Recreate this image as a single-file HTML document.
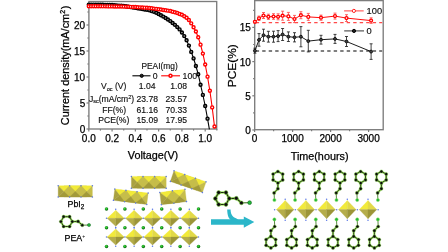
<!DOCTYPE html>
<html><head><meta charset="utf-8"><style>
html,body{margin:0;padding:0;background:#fff;width:448px;height:252px;overflow:hidden}
svg{display:block}
</style></head><body>
<svg width="448" height="252" viewBox="0 0 448 252">
<defs><radialGradient id="gsph" cx="0.42" cy="0.4" r="0.6"><stop offset="0" stop-color="#4ee04e"/><stop offset="0.55" stop-color="#16a01c"/><stop offset="1" stop-color="#0a5a0e"/></radialGradient></defs>
<rect width="448" height="252" fill="#fff"/>
<line x1="88.80" y1="129.0" x2="88.80" y2="131.4" stroke="#7c7c7c" stroke-width="1.2"/>
<line x1="100.44" y1="129.0" x2="100.44" y2="130.6" stroke="#7c7c7c" stroke-width="1.2"/>
<line x1="112.08" y1="129.0" x2="112.08" y2="131.4" stroke="#7c7c7c" stroke-width="1.2"/>
<line x1="123.72" y1="129.0" x2="123.72" y2="130.6" stroke="#7c7c7c" stroke-width="1.2"/>
<line x1="135.36" y1="129.0" x2="135.36" y2="131.4" stroke="#7c7c7c" stroke-width="1.2"/>
<line x1="147.00" y1="129.0" x2="147.00" y2="130.6" stroke="#7c7c7c" stroke-width="1.2"/>
<line x1="158.64" y1="129.0" x2="158.64" y2="131.4" stroke="#7c7c7c" stroke-width="1.2"/>
<line x1="170.28" y1="129.0" x2="170.28" y2="130.6" stroke="#7c7c7c" stroke-width="1.2"/>
<line x1="181.92" y1="129.0" x2="181.92" y2="131.4" stroke="#7c7c7c" stroke-width="1.2"/>
<line x1="193.56" y1="129.0" x2="193.56" y2="130.6" stroke="#7c7c7c" stroke-width="1.2"/>
<line x1="205.20" y1="129.0" x2="205.20" y2="131.4" stroke="#7c7c7c" stroke-width="1.2"/>
<line x1="216.84" y1="129.0" x2="216.84" y2="130.6" stroke="#7c7c7c" stroke-width="1.2"/>
<line x1="86.5" y1="129.00" x2="88.9" y2="129.00" stroke="#7c7c7c" stroke-width="1.2"/>
<line x1="87.30000000000001" y1="116.00" x2="88.9" y2="116.00" stroke="#7c7c7c" stroke-width="1.2"/>
<line x1="86.5" y1="103.00" x2="88.9" y2="103.00" stroke="#7c7c7c" stroke-width="1.2"/>
<line x1="87.30000000000001" y1="90.00" x2="88.9" y2="90.00" stroke="#7c7c7c" stroke-width="1.2"/>
<line x1="86.5" y1="77.00" x2="88.9" y2="77.00" stroke="#7c7c7c" stroke-width="1.2"/>
<line x1="87.30000000000001" y1="64.00" x2="88.9" y2="64.00" stroke="#7c7c7c" stroke-width="1.2"/>
<line x1="86.5" y1="51.00" x2="88.9" y2="51.00" stroke="#7c7c7c" stroke-width="1.2"/>
<line x1="87.30000000000001" y1="38.00" x2="88.9" y2="38.00" stroke="#7c7c7c" stroke-width="1.2"/>
<line x1="86.5" y1="25.00" x2="88.9" y2="25.00" stroke="#7c7c7c" stroke-width="1.2"/>
<line x1="87.30000000000001" y1="12.00" x2="88.9" y2="12.00" stroke="#7c7c7c" stroke-width="1.2"/>
<rect x="88.9" y="1.5" width="127.80" height="127.50" fill="none" stroke="#7c7c7c" stroke-width="1.35"/>
<text x="88.80" y="141.6" font-family="Liberation Sans, Arial, sans-serif" stroke="#000" stroke-width="0.25" font-size="10" text-anchor="middle" fill="#000">0.0</text>
<text x="112.08" y="141.6" font-family="Liberation Sans, Arial, sans-serif" stroke="#000" stroke-width="0.25" font-size="10" text-anchor="middle" fill="#000">0.2</text>
<text x="135.36" y="141.6" font-family="Liberation Sans, Arial, sans-serif" stroke="#000" stroke-width="0.25" font-size="10" text-anchor="middle" fill="#000">0.4</text>
<text x="158.64" y="141.6" font-family="Liberation Sans, Arial, sans-serif" stroke="#000" stroke-width="0.25" font-size="10" text-anchor="middle" fill="#000">0.6</text>
<text x="181.92" y="141.6" font-family="Liberation Sans, Arial, sans-serif" stroke="#000" stroke-width="0.25" font-size="10" text-anchor="middle" fill="#000">0.8</text>
<text x="205.20" y="141.6" font-family="Liberation Sans, Arial, sans-serif" stroke="#000" stroke-width="0.25" font-size="10" text-anchor="middle" fill="#000">1.0</text>
<text x="85.2" y="132.60" font-family="Liberation Sans, Arial, sans-serif" stroke="#000" stroke-width="0.25" font-size="10" text-anchor="end" fill="#000">0</text>
<text x="85.2" y="106.60" font-family="Liberation Sans, Arial, sans-serif" stroke="#000" stroke-width="0.25" font-size="10" text-anchor="end" fill="#000">5</text>
<text x="85.2" y="80.60" font-family="Liberation Sans, Arial, sans-serif" stroke="#000" stroke-width="0.25" font-size="10" text-anchor="end" fill="#000">10</text>
<text x="85.2" y="54.60" font-family="Liberation Sans, Arial, sans-serif" stroke="#000" stroke-width="0.25" font-size="10" text-anchor="end" fill="#000">15</text>
<text x="85.2" y="28.60" font-family="Liberation Sans, Arial, sans-serif" stroke="#000" stroke-width="0.25" font-size="10" text-anchor="end" fill="#000">20</text>
<text x="153" y="158.7" font-family="Liberation Sans, Arial, sans-serif" stroke="#000" stroke-width="0.25" font-size="10.8" text-anchor="middle" fill="#000">Voltage(V)</text>
<text transform="translate(69.4,124.6) rotate(-90)" x="-0.6" y="0" font-family="Liberation Sans, Arial, sans-serif" stroke="#000" stroke-width="0.25" font-size="10.9" fill="#000">Current density(mA/cm<tspan dy="-4.2" font-size="7">2</tspan><tspan dy="4.2" dx="0.6">)</tspan></text>
<path d="M88.80,4.60 L110.00,4.90 L125.00,6.10 L134.30,7.70 L141.00,8.80 L148.60,10.10 L155.00,12.20 L160.00,14.70 L165.00,17.60 L170.00,20.90 L175.00,24.90 L179.60,29.40 L181.90,32.40 L184.20,36.00 L186.60,40.30 L188.90,45.60 L191.20,51.80 L193.60,58.50 L195.90,66.00 L198.20,74.20 L200.50,84.50 L202.90,95.00 L205.20,106.00 L207.50,118.50 L209.40,129.30" fill="none" stroke="#000" stroke-width="1.1"/>
<circle cx="88.80" cy="4.60" r="1.5" fill="#999" stroke="#000" stroke-width="1.4"/>
<circle cx="91.13" cy="4.63" r="1.5" fill="#999" stroke="#000" stroke-width="1.4"/>
<circle cx="93.46" cy="4.67" r="1.5" fill="#999" stroke="#000" stroke-width="1.4"/>
<circle cx="95.78" cy="4.70" r="1.5" fill="#999" stroke="#000" stroke-width="1.4"/>
<circle cx="98.11" cy="4.73" r="1.5" fill="#999" stroke="#000" stroke-width="1.4"/>
<circle cx="100.44" cy="4.76" r="1.5" fill="#999" stroke="#000" stroke-width="1.4"/>
<circle cx="102.77" cy="4.80" r="1.5" fill="#999" stroke="#000" stroke-width="1.4"/>
<circle cx="105.10" cy="4.83" r="1.5" fill="#999" stroke="#000" stroke-width="1.4"/>
<circle cx="107.42" cy="4.86" r="1.5" fill="#999" stroke="#000" stroke-width="1.4"/>
<circle cx="109.75" cy="4.90" r="1.5" fill="#999" stroke="#000" stroke-width="1.4"/>
<circle cx="112.08" cy="5.07" r="1.5" fill="#999" stroke="#000" stroke-width="1.4"/>
<circle cx="114.41" cy="5.25" r="1.5" fill="#999" stroke="#000" stroke-width="1.4"/>
<circle cx="116.74" cy="5.44" r="1.5" fill="#999" stroke="#000" stroke-width="1.4"/>
<circle cx="119.06" cy="5.63" r="1.5" fill="#999" stroke="#000" stroke-width="1.4"/>
<circle cx="121.39" cy="5.81" r="1.5" fill="#999" stroke="#000" stroke-width="1.4"/>
<circle cx="123.72" cy="6.00" r="1.5" fill="#999" stroke="#000" stroke-width="1.4"/>
<circle cx="126.05" cy="6.28" r="1.5" fill="#999" stroke="#000" stroke-width="1.4"/>
<circle cx="128.38" cy="6.68" r="1.5" fill="#999" stroke="#000" stroke-width="1.4"/>
<circle cx="130.70" cy="7.08" r="1.5" fill="#999" stroke="#000" stroke-width="1.4"/>
<circle cx="133.03" cy="7.48" r="1.5" fill="#999" stroke="#000" stroke-width="1.4"/>
<circle cx="135.36" cy="7.87" r="1.5" fill="#999" stroke="#000" stroke-width="1.4"/>
<circle cx="137.69" cy="8.26" r="1.5" fill="#999" stroke="#000" stroke-width="1.4"/>
<circle cx="140.02" cy="8.64" r="1.5" fill="#999" stroke="#000" stroke-width="1.4"/>
<circle cx="142.34" cy="9.03" r="1.5" fill="#999" stroke="#000" stroke-width="1.4"/>
<circle cx="144.67" cy="9.43" r="1.5" fill="#999" stroke="#000" stroke-width="1.4"/>
<circle cx="147.00" cy="9.83" r="1.5" fill="#999" stroke="#000" stroke-width="1.4"/>
<circle cx="149.33" cy="10.34" r="1.5" fill="#999" stroke="#000" stroke-width="1.4"/>
<circle cx="151.66" cy="11.10" r="1.5" fill="#999" stroke="#000" stroke-width="1.4"/>
<circle cx="153.98" cy="11.87" r="1.5" fill="#999" stroke="#000" stroke-width="1.4"/>
<circle cx="156.31" cy="12.86" r="1.5" fill="#999" stroke="#000" stroke-width="1.4"/>
<circle cx="158.64" cy="14.02" r="1.5" fill="#999" stroke="#000" stroke-width="1.4"/>
<circle cx="160.97" cy="15.26" r="1.5" fill="#999" stroke="#000" stroke-width="1.4"/>
<circle cx="163.30" cy="16.61" r="1.5" fill="#999" stroke="#000" stroke-width="1.4"/>
<circle cx="165.62" cy="18.01" r="1.5" fill="#999" stroke="#000" stroke-width="1.4"/>
<circle cx="167.95" cy="19.55" r="1.5" fill="#999" stroke="#000" stroke-width="1.4"/>
<circle cx="170.28" cy="21.12" r="1.5" fill="#999" stroke="#000" stroke-width="1.4"/>
<circle cx="172.61" cy="22.99" r="1.5" fill="#999" stroke="#000" stroke-width="1.4"/>
<circle cx="174.94" cy="24.85" r="1.5" fill="#999" stroke="#000" stroke-width="1.4"/>
<circle cx="177.26" cy="27.11" r="1.5" fill="#999" stroke="#000" stroke-width="1.4"/>
<circle cx="179.59" cy="29.39" r="1.5" fill="#999" stroke="#000" stroke-width="1.4"/>
<circle cx="181.92" cy="32.43" r="1.5" fill="#999" stroke="#000" stroke-width="1.4"/>
<circle cx="184.25" cy="36.09" r="1.5" fill="#999" stroke="#000" stroke-width="1.4"/>
<circle cx="186.58" cy="40.26" r="1.5" fill="#999" stroke="#000" stroke-width="1.4"/>
<circle cx="188.90" cy="45.61" r="1.5" fill="#999" stroke="#000" stroke-width="1.4"/>
<circle cx="191.23" cy="51.89" r="1.5" fill="#999" stroke="#000" stroke-width="1.4"/>
<circle cx="193.56" cy="58.39" r="1.5" fill="#999" stroke="#000" stroke-width="1.4"/>
<circle cx="195.89" cy="65.96" r="1.5" fill="#999" stroke="#000" stroke-width="1.4"/>
<circle cx="198.22" cy="74.27" r="1.5" fill="#999" stroke="#000" stroke-width="1.4"/>
<circle cx="200.54" cy="84.69" r="1.5" fill="#999" stroke="#000" stroke-width="1.4"/>
<circle cx="202.87" cy="94.88" r="1.5" fill="#999" stroke="#000" stroke-width="1.4"/>
<circle cx="205.20" cy="106.00" r="1.5" fill="#999" stroke="#000" stroke-width="1.4"/>
<circle cx="207.53" cy="118.66" r="1.5" fill="#999" stroke="#000" stroke-width="1.4"/>
<path d="M88.80,6.20 L120.00,6.50 L135.00,7.00 L148.60,7.90 L160.00,9.40 L170.00,11.00 L176.00,12.60 L181.90,14.80 L184.20,16.20 L186.60,17.80 L188.90,20.00 L191.20,23.30 L193.60,27.30 L195.90,31.50 L198.20,37.20 L200.50,44.50 L202.90,53.70 L205.20,64.50 L207.50,76.50 L209.90,91.00 L212.20,107.50 L214.50,126.50" fill="none" stroke="#f00" stroke-width="1.1"/>
<circle cx="88.80" cy="6.20" r="1.5" fill="#fff" stroke="#f00" stroke-width="1.4"/>
<circle cx="91.13" cy="6.22" r="1.5" fill="#fff" stroke="#f00" stroke-width="1.4"/>
<circle cx="93.46" cy="6.24" r="1.5" fill="#fff" stroke="#f00" stroke-width="1.4"/>
<circle cx="95.78" cy="6.27" r="1.5" fill="#fff" stroke="#f00" stroke-width="1.4"/>
<circle cx="98.11" cy="6.29" r="1.5" fill="#fff" stroke="#f00" stroke-width="1.4"/>
<circle cx="100.44" cy="6.31" r="1.5" fill="#fff" stroke="#f00" stroke-width="1.4"/>
<circle cx="102.77" cy="6.33" r="1.5" fill="#fff" stroke="#f00" stroke-width="1.4"/>
<circle cx="105.10" cy="6.36" r="1.5" fill="#fff" stroke="#f00" stroke-width="1.4"/>
<circle cx="107.42" cy="6.38" r="1.5" fill="#fff" stroke="#f00" stroke-width="1.4"/>
<circle cx="109.75" cy="6.40" r="1.5" fill="#fff" stroke="#f00" stroke-width="1.4"/>
<circle cx="112.08" cy="6.42" r="1.5" fill="#fff" stroke="#f00" stroke-width="1.4"/>
<circle cx="114.41" cy="6.45" r="1.5" fill="#fff" stroke="#f00" stroke-width="1.4"/>
<circle cx="116.74" cy="6.47" r="1.5" fill="#fff" stroke="#f00" stroke-width="1.4"/>
<circle cx="119.06" cy="6.49" r="1.5" fill="#fff" stroke="#f00" stroke-width="1.4"/>
<circle cx="121.39" cy="6.55" r="1.5" fill="#fff" stroke="#f00" stroke-width="1.4"/>
<circle cx="123.72" cy="6.62" r="1.5" fill="#fff" stroke="#f00" stroke-width="1.4"/>
<circle cx="126.05" cy="6.70" r="1.5" fill="#fff" stroke="#f00" stroke-width="1.4"/>
<circle cx="128.38" cy="6.78" r="1.5" fill="#fff" stroke="#f00" stroke-width="1.4"/>
<circle cx="130.70" cy="6.86" r="1.5" fill="#fff" stroke="#f00" stroke-width="1.4"/>
<circle cx="133.03" cy="6.93" r="1.5" fill="#fff" stroke="#f00" stroke-width="1.4"/>
<circle cx="135.36" cy="7.02" r="1.5" fill="#fff" stroke="#f00" stroke-width="1.4"/>
<circle cx="137.69" cy="7.18" r="1.5" fill="#fff" stroke="#f00" stroke-width="1.4"/>
<circle cx="140.02" cy="7.33" r="1.5" fill="#fff" stroke="#f00" stroke-width="1.4"/>
<circle cx="142.34" cy="7.49" r="1.5" fill="#fff" stroke="#f00" stroke-width="1.4"/>
<circle cx="144.67" cy="7.64" r="1.5" fill="#fff" stroke="#f00" stroke-width="1.4"/>
<circle cx="147.00" cy="7.79" r="1.5" fill="#fff" stroke="#f00" stroke-width="1.4"/>
<circle cx="149.33" cy="8.00" r="1.5" fill="#fff" stroke="#f00" stroke-width="1.4"/>
<circle cx="151.66" cy="8.30" r="1.5" fill="#fff" stroke="#f00" stroke-width="1.4"/>
<circle cx="153.98" cy="8.61" r="1.5" fill="#fff" stroke="#f00" stroke-width="1.4"/>
<circle cx="156.31" cy="8.91" r="1.5" fill="#fff" stroke="#f00" stroke-width="1.4"/>
<circle cx="158.64" cy="9.22" r="1.5" fill="#fff" stroke="#f00" stroke-width="1.4"/>
<circle cx="160.97" cy="9.55" r="1.5" fill="#fff" stroke="#f00" stroke-width="1.4"/>
<circle cx="163.30" cy="9.93" r="1.5" fill="#fff" stroke="#f00" stroke-width="1.4"/>
<circle cx="165.62" cy="10.30" r="1.5" fill="#fff" stroke="#f00" stroke-width="1.4"/>
<circle cx="167.95" cy="10.67" r="1.5" fill="#fff" stroke="#f00" stroke-width="1.4"/>
<circle cx="170.28" cy="11.07" r="1.5" fill="#fff" stroke="#f00" stroke-width="1.4"/>
<circle cx="172.61" cy="11.70" r="1.5" fill="#fff" stroke="#f00" stroke-width="1.4"/>
<circle cx="174.94" cy="12.32" r="1.5" fill="#fff" stroke="#f00" stroke-width="1.4"/>
<circle cx="177.26" cy="13.07" r="1.5" fill="#fff" stroke="#f00" stroke-width="1.4"/>
<circle cx="179.59" cy="13.94" r="1.5" fill="#fff" stroke="#f00" stroke-width="1.4"/>
<circle cx="181.92" cy="14.81" r="1.5" fill="#fff" stroke="#f00" stroke-width="1.4"/>
<circle cx="184.25" cy="16.23" r="1.5" fill="#fff" stroke="#f00" stroke-width="1.4"/>
<circle cx="186.58" cy="17.78" r="1.5" fill="#fff" stroke="#f00" stroke-width="1.4"/>
<circle cx="188.90" cy="20.01" r="1.5" fill="#fff" stroke="#f00" stroke-width="1.4"/>
<circle cx="191.23" cy="23.35" r="1.5" fill="#fff" stroke="#f00" stroke-width="1.4"/>
<circle cx="193.56" cy="27.23" r="1.5" fill="#fff" stroke="#f00" stroke-width="1.4"/>
<circle cx="195.89" cy="31.48" r="1.5" fill="#fff" stroke="#f00" stroke-width="1.4"/>
<circle cx="198.22" cy="37.25" r="1.5" fill="#fff" stroke="#f00" stroke-width="1.4"/>
<circle cx="200.54" cy="44.67" r="1.5" fill="#fff" stroke="#f00" stroke-width="1.4"/>
<circle cx="202.87" cy="53.59" r="1.5" fill="#fff" stroke="#f00" stroke-width="1.4"/>
<circle cx="205.20" cy="64.50" r="1.5" fill="#fff" stroke="#f00" stroke-width="1.4"/>
<circle cx="207.53" cy="76.67" r="1.5" fill="#fff" stroke="#f00" stroke-width="1.4"/>
<circle cx="209.86" cy="90.73" r="1.5" fill="#fff" stroke="#f00" stroke-width="1.4"/>
<circle cx="212.18" cy="107.39" r="1.5" fill="#fff" stroke="#f00" stroke-width="1.4"/>
<circle cx="214.51" cy="126.50" r="1.5" fill="#fff" stroke="#f00" stroke-width="1.4"/>
<text x="159.6" y="68.6" font-family="Liberation Sans, Arial, sans-serif" stroke="#111" stroke-width="0.15" font-size="8.4" text-anchor="middle" fill="#111">PEAI(mg)</text>
<line x1="132.4" y1="75.8" x2="150.5" y2="75.8" stroke="#000" stroke-width="1.1"/>
<circle cx="141.7" cy="75.8" r="1.6" fill="#222" stroke="#000" stroke-width="1"/>
<text x="152.8" y="79" font-family="Liberation Sans, Arial, sans-serif" stroke="#111" stroke-width="0.15" font-size="8.7" fill="#111">0</text>
<line x1="161.2" y1="75.8" x2="180" y2="75.8" stroke="#f00" stroke-width="1.1"/>
<circle cx="170.5" cy="75.8" r="1.5" fill="#fff" stroke="#f00" stroke-width="1.45"/>
<text x="182.6" y="79" font-family="Liberation Sans, Arial, sans-serif" stroke="#111" stroke-width="0.15" font-size="8.7" fill="#111">100</text>
<text x="101.0" y="89.3" font-family="Liberation Sans, Arial, sans-serif" stroke="#111" stroke-width="0.15" font-size="8.6" fill="#111">V<tspan dy="1.6" font-size="5.5">oc</tspan><tspan dy="-1.6"> (V)</tspan></text>
<text x="88.9" y="101.6" font-family="Liberation Sans, Arial, sans-serif" stroke="#111" stroke-width="0.15" font-size="8.6" fill="#111">J<tspan dy="1.6" font-size="5.5">sc</tspan><tspan dy="-1.6">(mA/cm</tspan><tspan dy="-3" font-size="5.5">2</tspan><tspan dy="3">)</tspan></text>
<text x="114.2" y="113.2" font-family="Liberation Sans, Arial, sans-serif" stroke="#111" stroke-width="0.15" font-size="8.6" text-anchor="middle" fill="#111">FF(%)</text>
<text x="113.8" y="123.1" font-family="Liberation Sans, Arial, sans-serif" stroke="#111" stroke-width="0.15" font-size="8.6" text-anchor="middle" fill="#111">PCE(%)</text>
<text x="147.2" y="89.3" font-family="Liberation Sans, Arial, sans-serif" stroke="#111" stroke-width="0.15" font-size="8.6" text-anchor="middle" fill="#111">1.04</text>
<text x="187.0" y="89.3" font-family="Liberation Sans, Arial, sans-serif" stroke="#111" stroke-width="0.15" font-size="8.6" text-anchor="end" fill="#111">1.08</text>
<text x="147.2" y="101.6" font-family="Liberation Sans, Arial, sans-serif" stroke="#111" stroke-width="0.15" font-size="8.6" text-anchor="middle" fill="#111">23.78</text>
<text x="187.0" y="101.6" font-family="Liberation Sans, Arial, sans-serif" stroke="#111" stroke-width="0.15" font-size="8.6" text-anchor="end" fill="#111">23.57</text>
<text x="147.2" y="113.2" font-family="Liberation Sans, Arial, sans-serif" stroke="#111" stroke-width="0.15" font-size="8.6" text-anchor="middle" fill="#111">61.16</text>
<text x="187.0" y="113.2" font-family="Liberation Sans, Arial, sans-serif" stroke="#111" stroke-width="0.15" font-size="8.6" text-anchor="end" fill="#111">70.33</text>
<text x="147.2" y="123.1" font-family="Liberation Sans, Arial, sans-serif" stroke="#111" stroke-width="0.15" font-size="8.6" text-anchor="middle" fill="#111">15.09</text>
<text x="187.0" y="123.1" font-family="Liberation Sans, Arial, sans-serif" stroke="#111" stroke-width="0.15" font-size="8.6" text-anchor="end" fill="#111">17.95</text>
<line x1="254.60" y1="129.7" x2="254.60" y2="132.1" stroke="#7c7c7c" stroke-width="1.2"/>
<line x1="273.60" y1="129.7" x2="273.60" y2="131.29999999999998" stroke="#7c7c7c" stroke-width="1.2"/>
<line x1="292.60" y1="129.7" x2="292.60" y2="132.1" stroke="#7c7c7c" stroke-width="1.2"/>
<line x1="311.60" y1="129.7" x2="311.60" y2="131.29999999999998" stroke="#7c7c7c" stroke-width="1.2"/>
<line x1="330.60" y1="129.7" x2="330.60" y2="132.1" stroke="#7c7c7c" stroke-width="1.2"/>
<line x1="349.60" y1="129.7" x2="349.60" y2="131.29999999999998" stroke="#7c7c7c" stroke-width="1.2"/>
<line x1="368.60" y1="129.7" x2="368.60" y2="132.1" stroke="#7c7c7c" stroke-width="1.2"/>
<line x1="252.29999999999998" y1="130.00" x2="254.7" y2="130.00" stroke="#7c7c7c" stroke-width="1.2"/>
<line x1="253.1" y1="112.90" x2="254.7" y2="112.90" stroke="#7c7c7c" stroke-width="1.2"/>
<line x1="252.29999999999998" y1="95.80" x2="254.7" y2="95.80" stroke="#7c7c7c" stroke-width="1.2"/>
<line x1="253.1" y1="78.70" x2="254.7" y2="78.70" stroke="#7c7c7c" stroke-width="1.2"/>
<line x1="252.29999999999998" y1="61.60" x2="254.7" y2="61.60" stroke="#7c7c7c" stroke-width="1.2"/>
<line x1="253.1" y1="44.50" x2="254.7" y2="44.50" stroke="#7c7c7c" stroke-width="1.2"/>
<line x1="252.29999999999998" y1="27.40" x2="254.7" y2="27.40" stroke="#7c7c7c" stroke-width="1.2"/>
<line x1="253.1" y1="10.30" x2="254.7" y2="10.30" stroke="#7c7c7c" stroke-width="1.2"/>
<rect x="254.7" y="0.6" width="128.50" height="129.10" fill="none" stroke="#7c7c7c" stroke-width="1.35"/>
<text x="254.60" y="142.3" font-family="Liberation Sans, Arial, sans-serif" stroke="#000" stroke-width="0.25" font-size="10" text-anchor="middle" fill="#000">0</text>
<text x="292.60" y="142.3" font-family="Liberation Sans, Arial, sans-serif" stroke="#000" stroke-width="0.25" font-size="10" text-anchor="middle" fill="#000">1000</text>
<text x="330.60" y="142.3" font-family="Liberation Sans, Arial, sans-serif" stroke="#000" stroke-width="0.25" font-size="10" text-anchor="middle" fill="#000">2000</text>
<text x="368.60" y="142.3" font-family="Liberation Sans, Arial, sans-serif" stroke="#000" stroke-width="0.25" font-size="10" text-anchor="middle" fill="#000">3000</text>
<text x="250.8" y="133.90" font-family="Liberation Sans, Arial, sans-serif" stroke="#000" stroke-width="0.25" font-size="10" text-anchor="end" fill="#000">0</text>
<text x="250.8" y="99.70" font-family="Liberation Sans, Arial, sans-serif" stroke="#000" stroke-width="0.25" font-size="10" text-anchor="end" fill="#000">5</text>
<text x="250.8" y="65.50" font-family="Liberation Sans, Arial, sans-serif" stroke="#000" stroke-width="0.25" font-size="10" text-anchor="end" fill="#000">10</text>
<text x="250.8" y="31.30" font-family="Liberation Sans, Arial, sans-serif" stroke="#000" stroke-width="0.25" font-size="10" text-anchor="end" fill="#000">15</text>
<text x="319.6" y="159.6" font-family="Liberation Sans, Arial, sans-serif" stroke="#000" stroke-width="0.25" font-size="10.8" text-anchor="middle" fill="#000">Time(hours)</text>
<text transform="translate(235.9,65.7) rotate(-90) scale(1.045,1)" x="0" y="0" font-family="Liberation Sans, Arial, sans-serif" stroke="#000" stroke-width="0.25" font-size="11.4" text-anchor="middle" fill="#000">PCE(%)</text>
<line x1="255.7" y1="22.7" x2="382.2" y2="22.7" stroke="#ff4a4a" stroke-width="1.3" stroke-dasharray="3.4 3.1"/>
<line x1="255.7" y1="51.0" x2="382.2" y2="51.0" stroke="#555" stroke-width="1.3" stroke-dasharray="3.4 3.1"/>
<path d="M254.90,50.70 L259.00,39.90 L263.50,35.20 L268.40,36.70 L273.50,36.70 L278.10,36.10 L282.60,34.50 L288.40,36.70 L294.50,37.30 L300.90,36.70 L308.30,41.10 L321.00,39.70 L335.00,38.90 L346.50,41.50 L371.10,51.60" fill="none" stroke="#111" stroke-width="0.95"/>
<line x1="254.90" y1="48.20" x2="254.90" y2="53.20" stroke="#222" stroke-width="0.85"/>
<line x1="253.40" y1="48.20" x2="256.40" y2="48.20" stroke="#222" stroke-width="0.85"/>
<line x1="253.40" y1="53.20" x2="256.40" y2="53.20" stroke="#222" stroke-width="0.85"/>
<circle cx="254.90" cy="50.70" r="1.45" fill="#444" stroke="#111" stroke-width="1.0"/>
<line x1="259.00" y1="33.60" x2="259.00" y2="46.20" stroke="#222" stroke-width="0.85"/>
<line x1="257.50" y1="33.60" x2="260.50" y2="33.60" stroke="#222" stroke-width="0.85"/>
<line x1="257.50" y1="46.20" x2="260.50" y2="46.20" stroke="#222" stroke-width="0.85"/>
<circle cx="259.00" cy="39.90" r="1.45" fill="#444" stroke="#111" stroke-width="1.0"/>
<line x1="263.50" y1="29.20" x2="263.50" y2="41.20" stroke="#222" stroke-width="0.85"/>
<line x1="262.00" y1="29.20" x2="265.00" y2="29.20" stroke="#222" stroke-width="0.85"/>
<line x1="262.00" y1="41.20" x2="265.00" y2="41.20" stroke="#222" stroke-width="0.85"/>
<circle cx="263.50" cy="35.20" r="1.45" fill="#444" stroke="#111" stroke-width="1.0"/>
<line x1="268.40" y1="31.30" x2="268.40" y2="42.10" stroke="#222" stroke-width="0.85"/>
<line x1="266.90" y1="31.30" x2="269.90" y2="31.30" stroke="#222" stroke-width="0.85"/>
<line x1="266.90" y1="42.10" x2="269.90" y2="42.10" stroke="#222" stroke-width="0.85"/>
<circle cx="268.40" cy="36.70" r="1.45" fill="#444" stroke="#111" stroke-width="1.0"/>
<line x1="273.50" y1="31.20" x2="273.50" y2="42.20" stroke="#222" stroke-width="0.85"/>
<line x1="272.00" y1="31.20" x2="275.00" y2="31.20" stroke="#222" stroke-width="0.85"/>
<line x1="272.00" y1="42.20" x2="275.00" y2="42.20" stroke="#222" stroke-width="0.85"/>
<circle cx="273.50" cy="36.70" r="1.45" fill="#444" stroke="#111" stroke-width="1.0"/>
<line x1="278.10" y1="30.60" x2="278.10" y2="41.60" stroke="#222" stroke-width="0.85"/>
<line x1="276.60" y1="30.60" x2="279.60" y2="30.60" stroke="#222" stroke-width="0.85"/>
<line x1="276.60" y1="41.60" x2="279.60" y2="41.60" stroke="#222" stroke-width="0.85"/>
<circle cx="278.10" cy="36.10" r="1.45" fill="#444" stroke="#111" stroke-width="1.0"/>
<line x1="282.60" y1="28.50" x2="282.60" y2="40.50" stroke="#222" stroke-width="0.85"/>
<line x1="281.10" y1="28.50" x2="284.10" y2="28.50" stroke="#222" stroke-width="0.85"/>
<line x1="281.10" y1="40.50" x2="284.10" y2="40.50" stroke="#222" stroke-width="0.85"/>
<circle cx="282.60" cy="34.50" r="1.45" fill="#444" stroke="#111" stroke-width="1.0"/>
<line x1="288.40" y1="31.90" x2="288.40" y2="41.50" stroke="#222" stroke-width="0.85"/>
<line x1="286.90" y1="31.90" x2="289.90" y2="31.90" stroke="#222" stroke-width="0.85"/>
<line x1="286.90" y1="41.50" x2="289.90" y2="41.50" stroke="#222" stroke-width="0.85"/>
<circle cx="288.40" cy="36.70" r="1.45" fill="#444" stroke="#111" stroke-width="1.0"/>
<line x1="294.50" y1="32.70" x2="294.50" y2="41.90" stroke="#222" stroke-width="0.85"/>
<line x1="293.00" y1="32.70" x2="296.00" y2="32.70" stroke="#222" stroke-width="0.85"/>
<line x1="293.00" y1="41.90" x2="296.00" y2="41.90" stroke="#222" stroke-width="0.85"/>
<circle cx="294.50" cy="37.30" r="1.45" fill="#444" stroke="#111" stroke-width="1.0"/>
<line x1="300.90" y1="26.60" x2="300.90" y2="46.80" stroke="#222" stroke-width="0.85"/>
<line x1="299.40" y1="26.60" x2="302.40" y2="26.60" stroke="#222" stroke-width="0.85"/>
<line x1="299.40" y1="46.80" x2="302.40" y2="46.80" stroke="#222" stroke-width="0.85"/>
<circle cx="300.90" cy="36.70" r="1.45" fill="#444" stroke="#111" stroke-width="1.0"/>
<line x1="308.30" y1="30.30" x2="308.30" y2="51.90" stroke="#222" stroke-width="0.85"/>
<line x1="306.80" y1="30.30" x2="309.80" y2="30.30" stroke="#222" stroke-width="0.85"/>
<line x1="306.80" y1="51.90" x2="309.80" y2="51.90" stroke="#222" stroke-width="0.85"/>
<circle cx="308.30" cy="41.10" r="1.45" fill="#444" stroke="#111" stroke-width="1.0"/>
<line x1="321.00" y1="35.30" x2="321.00" y2="44.10" stroke="#222" stroke-width="0.85"/>
<line x1="319.50" y1="35.30" x2="322.50" y2="35.30" stroke="#222" stroke-width="0.85"/>
<line x1="319.50" y1="44.10" x2="322.50" y2="44.10" stroke="#222" stroke-width="0.85"/>
<circle cx="321.00" cy="39.70" r="1.45" fill="#444" stroke="#111" stroke-width="1.0"/>
<line x1="335.00" y1="34.40" x2="335.00" y2="43.40" stroke="#222" stroke-width="0.85"/>
<line x1="333.50" y1="34.40" x2="336.50" y2="34.40" stroke="#222" stroke-width="0.85"/>
<line x1="333.50" y1="43.40" x2="336.50" y2="43.40" stroke="#222" stroke-width="0.85"/>
<circle cx="335.00" cy="38.90" r="1.45" fill="#444" stroke="#111" stroke-width="1.0"/>
<line x1="346.50" y1="36.50" x2="346.50" y2="46.50" stroke="#222" stroke-width="0.85"/>
<line x1="345.00" y1="36.50" x2="348.00" y2="36.50" stroke="#222" stroke-width="0.85"/>
<line x1="345.00" y1="46.50" x2="348.00" y2="46.50" stroke="#222" stroke-width="0.85"/>
<circle cx="346.50" cy="41.50" r="1.45" fill="#444" stroke="#111" stroke-width="1.0"/>
<line x1="371.10" y1="43.80" x2="371.10" y2="59.40" stroke="#222" stroke-width="0.85"/>
<line x1="369.60" y1="43.80" x2="372.60" y2="43.80" stroke="#222" stroke-width="0.85"/>
<line x1="369.60" y1="59.40" x2="372.60" y2="59.40" stroke="#222" stroke-width="0.85"/>
<circle cx="371.10" cy="51.60" r="1.45" fill="#444" stroke="#111" stroke-width="1.0"/>
<path d="M254.90,21.80 L259.00,18.30 L263.50,15.50 L268.40,16.80 L273.50,16.50 L278.10,16.80 L282.60,15.70 L288.40,16.40 L294.50,19.00 L300.90,15.20 L308.30,16.90 L321.00,17.70 L335.00,16.10 L346.50,18.10 L371.10,20.60" fill="none" stroke="#f00" stroke-width="0.95"/>
<line x1="254.90" y1="20.60" x2="254.90" y2="23.00" stroke="#ff4d4d" stroke-width="0.85"/>
<line x1="253.40" y1="20.60" x2="256.40" y2="20.60" stroke="#ff4d4d" stroke-width="0.85"/>
<line x1="253.40" y1="23.00" x2="256.40" y2="23.00" stroke="#ff4d4d" stroke-width="0.85"/>
<circle cx="254.90" cy="21.80" r="1.45" fill="#fff" stroke="#f00" stroke-width="1.3"/>
<line x1="259.00" y1="16.10" x2="259.00" y2="20.50" stroke="#ff4d4d" stroke-width="0.85"/>
<line x1="257.50" y1="16.10" x2="260.50" y2="16.10" stroke="#ff4d4d" stroke-width="0.85"/>
<line x1="257.50" y1="20.50" x2="260.50" y2="20.50" stroke="#ff4d4d" stroke-width="0.85"/>
<circle cx="259.00" cy="18.30" r="1.45" fill="#fff" stroke="#f00" stroke-width="1.3"/>
<line x1="263.50" y1="12.50" x2="263.50" y2="18.50" stroke="#ff4d4d" stroke-width="0.85"/>
<line x1="262.00" y1="12.50" x2="265.00" y2="12.50" stroke="#ff4d4d" stroke-width="0.85"/>
<line x1="262.00" y1="18.50" x2="265.00" y2="18.50" stroke="#ff4d4d" stroke-width="0.85"/>
<circle cx="263.50" cy="15.50" r="1.45" fill="#fff" stroke="#f00" stroke-width="1.3"/>
<line x1="268.40" y1="14.20" x2="268.40" y2="19.40" stroke="#ff4d4d" stroke-width="0.85"/>
<line x1="266.90" y1="14.20" x2="269.90" y2="14.20" stroke="#ff4d4d" stroke-width="0.85"/>
<line x1="266.90" y1="19.40" x2="269.90" y2="19.40" stroke="#ff4d4d" stroke-width="0.85"/>
<circle cx="268.40" cy="16.80" r="1.45" fill="#fff" stroke="#f00" stroke-width="1.3"/>
<line x1="273.50" y1="13.70" x2="273.50" y2="19.30" stroke="#ff4d4d" stroke-width="0.85"/>
<line x1="272.00" y1="13.70" x2="275.00" y2="13.70" stroke="#ff4d4d" stroke-width="0.85"/>
<line x1="272.00" y1="19.30" x2="275.00" y2="19.30" stroke="#ff4d4d" stroke-width="0.85"/>
<circle cx="273.50" cy="16.50" r="1.45" fill="#fff" stroke="#f00" stroke-width="1.3"/>
<line x1="278.10" y1="13.80" x2="278.10" y2="19.80" stroke="#ff4d4d" stroke-width="0.85"/>
<line x1="276.60" y1="13.80" x2="279.60" y2="13.80" stroke="#ff4d4d" stroke-width="0.85"/>
<line x1="276.60" y1="19.80" x2="279.60" y2="19.80" stroke="#ff4d4d" stroke-width="0.85"/>
<circle cx="278.10" cy="16.80" r="1.45" fill="#fff" stroke="#f00" stroke-width="1.3"/>
<line x1="282.60" y1="11.20" x2="282.60" y2="20.20" stroke="#ff4d4d" stroke-width="0.85"/>
<line x1="281.10" y1="11.20" x2="284.10" y2="11.20" stroke="#ff4d4d" stroke-width="0.85"/>
<line x1="281.10" y1="20.20" x2="284.10" y2="20.20" stroke="#ff4d4d" stroke-width="0.85"/>
<circle cx="282.60" cy="15.70" r="1.45" fill="#fff" stroke="#f00" stroke-width="1.3"/>
<line x1="288.40" y1="12.40" x2="288.40" y2="20.40" stroke="#ff4d4d" stroke-width="0.85"/>
<line x1="286.90" y1="12.40" x2="289.90" y2="12.40" stroke="#ff4d4d" stroke-width="0.85"/>
<line x1="286.90" y1="20.40" x2="289.90" y2="20.40" stroke="#ff4d4d" stroke-width="0.85"/>
<circle cx="288.40" cy="16.40" r="1.45" fill="#fff" stroke="#f00" stroke-width="1.3"/>
<line x1="294.50" y1="15.40" x2="294.50" y2="22.60" stroke="#ff4d4d" stroke-width="0.85"/>
<line x1="293.00" y1="15.40" x2="296.00" y2="15.40" stroke="#ff4d4d" stroke-width="0.85"/>
<line x1="293.00" y1="22.60" x2="296.00" y2="22.60" stroke="#ff4d4d" stroke-width="0.85"/>
<circle cx="294.50" cy="19.00" r="1.45" fill="#fff" stroke="#f00" stroke-width="1.3"/>
<line x1="300.90" y1="11.70" x2="300.90" y2="18.70" stroke="#ff4d4d" stroke-width="0.85"/>
<line x1="299.40" y1="11.70" x2="302.40" y2="11.70" stroke="#ff4d4d" stroke-width="0.85"/>
<line x1="299.40" y1="18.70" x2="302.40" y2="18.70" stroke="#ff4d4d" stroke-width="0.85"/>
<circle cx="300.90" cy="15.20" r="1.45" fill="#fff" stroke="#f00" stroke-width="1.3"/>
<line x1="308.30" y1="13.40" x2="308.30" y2="20.40" stroke="#ff4d4d" stroke-width="0.85"/>
<line x1="306.80" y1="13.40" x2="309.80" y2="13.40" stroke="#ff4d4d" stroke-width="0.85"/>
<line x1="306.80" y1="20.40" x2="309.80" y2="20.40" stroke="#ff4d4d" stroke-width="0.85"/>
<circle cx="308.30" cy="16.90" r="1.45" fill="#fff" stroke="#f00" stroke-width="1.3"/>
<line x1="321.00" y1="15.10" x2="321.00" y2="20.30" stroke="#ff4d4d" stroke-width="0.85"/>
<line x1="319.50" y1="15.10" x2="322.50" y2="15.10" stroke="#ff4d4d" stroke-width="0.85"/>
<line x1="319.50" y1="20.30" x2="322.50" y2="20.30" stroke="#ff4d4d" stroke-width="0.85"/>
<circle cx="321.00" cy="17.70" r="1.45" fill="#fff" stroke="#f00" stroke-width="1.3"/>
<line x1="335.00" y1="13.10" x2="335.00" y2="19.10" stroke="#ff4d4d" stroke-width="0.85"/>
<line x1="333.50" y1="13.10" x2="336.50" y2="13.10" stroke="#ff4d4d" stroke-width="0.85"/>
<line x1="333.50" y1="19.10" x2="336.50" y2="19.10" stroke="#ff4d4d" stroke-width="0.85"/>
<circle cx="335.00" cy="16.10" r="1.45" fill="#fff" stroke="#f00" stroke-width="1.3"/>
<line x1="346.50" y1="14.70" x2="346.50" y2="21.50" stroke="#ff4d4d" stroke-width="0.85"/>
<line x1="345.00" y1="14.70" x2="348.00" y2="14.70" stroke="#ff4d4d" stroke-width="0.85"/>
<line x1="345.00" y1="21.50" x2="348.00" y2="21.50" stroke="#ff4d4d" stroke-width="0.85"/>
<circle cx="346.50" cy="18.10" r="1.45" fill="#fff" stroke="#f00" stroke-width="1.3"/>
<line x1="371.10" y1="17.80" x2="371.10" y2="23.40" stroke="#ff4d4d" stroke-width="0.85"/>
<line x1="369.60" y1="17.80" x2="372.60" y2="17.80" stroke="#ff4d4d" stroke-width="0.85"/>
<line x1="369.60" y1="23.40" x2="372.60" y2="23.40" stroke="#ff4d4d" stroke-width="0.85"/>
<circle cx="371.10" cy="20.60" r="1.45" fill="#fff" stroke="#f00" stroke-width="1.3"/>
<line x1="344.1" y1="10.9" x2="363.7" y2="10.9" stroke="#ff4040" stroke-width="1.0"/>
<circle cx="353.9" cy="10.9" r="1.6" fill="#fff" stroke="#f22" stroke-width="1"/>
<text x="366.6" y="14.2" font-family="Liberation Sans, Arial, sans-serif" stroke="#111" stroke-width="0.15" font-size="9.3" fill="#111">100</text>
<line x1="344.2" y1="30.9" x2="364" y2="30.9" stroke="#444" stroke-width="1.1"/>
<circle cx="354" cy="30.9" r="1.6" fill="#222" stroke="#000" stroke-width="1"/>
<text x="366.6" y="34.4" font-family="Liberation Sans, Arial, sans-serif" stroke="#111" stroke-width="0.15" font-size="9.3" fill="#111">0</text>
<g transform="translate(58.2,185.7) rotate(0)"><rect x="5.7" y="0" width="22.8" height="11.4" fill="#c6bd4a"/><polygon points="0.0,0 11.4,0 5.7,5.7" fill="#f2ea38" stroke="#f2ea38" stroke-width="0.3" stroke-linejoin="round"/><polygon points="0.0,0 5.7,5.7 0.0,11.4" fill="#a9a140" stroke="#a9a140" stroke-width="0.3"/><polygon points="11.4,0 5.7,5.7 11.4,11.4" fill="#c6bd4a" stroke="#c6bd4a" stroke-width="0.3"/><polygon points="0.0,11.4 5.7,5.7 11.4,11.4" fill="#a29a3a" stroke="#a29a3a" stroke-width="0.3"/><polygon points="11.4,0 22.8,0 17.1,5.7" fill="#f2ea38" stroke="#f2ea38" stroke-width="0.3" stroke-linejoin="round"/><polygon points="11.4,0 17.1,5.7 11.4,11.4" fill="#c6bd4a" stroke="#c6bd4a" stroke-width="0.3"/><polygon points="22.8,0 17.1,5.7 22.8,11.4" fill="#c6bd4a" stroke="#c6bd4a" stroke-width="0.3"/><polygon points="11.4,11.4 17.1,5.7 22.8,11.4" fill="#a29a3a" stroke="#a29a3a" stroke-width="0.3"/><polygon points="22.8,0 34.2,0 28.5,5.7" fill="#f2ea38" stroke="#f2ea38" stroke-width="0.3" stroke-linejoin="round"/><polygon points="22.8,0 28.5,5.7 22.8,11.4" fill="#c6bd4a" stroke="#c6bd4a" stroke-width="0.3"/><polygon points="34.2,0 28.5,5.7 34.2,11.4" fill="#c6bd4a" stroke="#c6bd4a" stroke-width="0.3"/><polygon points="22.8,11.4 28.5,5.7 34.2,11.4" fill="#a29a3a" stroke="#a29a3a" stroke-width="0.3"/><circle cx="0.0" cy="0" r="0.75" fill="#5a78e6"/><circle cx="0.0" cy="11.4" r="0.75" fill="#5a78e6"/><circle cx="11.4" cy="0" r="0.75" fill="#5a78e6"/><circle cx="11.4" cy="11.4" r="0.75" fill="#5a78e6"/><circle cx="22.8" cy="0" r="0.75" fill="#5a78e6"/><circle cx="22.8" cy="11.4" r="0.75" fill="#5a78e6"/><circle cx="34.2" cy="0" r="0.75" fill="#5a78e6"/><circle cx="34.2" cy="11.4" r="0.75" fill="#5a78e6"/></g>
<g transform="translate(131.4,176.4) rotate(0)"><rect x="5.8" y="0" width="23.2" height="11.9" fill="#c6bd4a"/><polygon points="0.0,0 11.6,0 5.8,5.95" fill="#f2ea38" stroke="#f2ea38" stroke-width="0.3" stroke-linejoin="round"/><polygon points="0.0,0 5.8,5.95 0.0,11.9" fill="#a9a140" stroke="#a9a140" stroke-width="0.3"/><polygon points="11.6,0 5.8,5.95 11.6,11.9" fill="#c6bd4a" stroke="#c6bd4a" stroke-width="0.3"/><polygon points="0.0,11.9 5.8,5.95 11.6,11.9" fill="#a29a3a" stroke="#a29a3a" stroke-width="0.3"/><polygon points="11.6,0 23.2,0 17.4,5.95" fill="#f2ea38" stroke="#f2ea38" stroke-width="0.3" stroke-linejoin="round"/><polygon points="11.6,0 17.4,5.95 11.6,11.9" fill="#c6bd4a" stroke="#c6bd4a" stroke-width="0.3"/><polygon points="23.2,0 17.4,5.95 23.2,11.9" fill="#c6bd4a" stroke="#c6bd4a" stroke-width="0.3"/><polygon points="11.6,11.9 17.4,5.95 23.2,11.9" fill="#a29a3a" stroke="#a29a3a" stroke-width="0.3"/><polygon points="23.2,0 34.8,0 29.0,5.95" fill="#f2ea38" stroke="#f2ea38" stroke-width="0.3" stroke-linejoin="round"/><polygon points="23.2,0 29.0,5.95 23.2,11.9" fill="#c6bd4a" stroke="#c6bd4a" stroke-width="0.3"/><polygon points="34.8,0 29.0,5.95 34.8,11.9" fill="#c6bd4a" stroke="#c6bd4a" stroke-width="0.3"/><polygon points="23.2,11.9 29.0,5.95 34.8,11.9" fill="#a29a3a" stroke="#a29a3a" stroke-width="0.3"/><circle cx="0.0" cy="0" r="0.75" fill="#5a78e6"/><circle cx="0.0" cy="11.9" r="0.75" fill="#5a78e6"/><circle cx="11.6" cy="0" r="0.75" fill="#5a78e6"/><circle cx="11.6" cy="11.9" r="0.75" fill="#5a78e6"/><circle cx="23.2" cy="0" r="0.75" fill="#5a78e6"/><circle cx="23.2" cy="11.9" r="0.75" fill="#5a78e6"/><circle cx="34.8" cy="0" r="0.75" fill="#5a78e6"/><circle cx="34.8" cy="11.9" r="0.75" fill="#5a78e6"/></g>
<g transform="translate(114.8,189.0) rotate(7)"><rect x="5.6" y="0" width="22.4" height="11.4" fill="#c6bd4a"/><polygon points="0.0,0 11.2,0 5.6,5.7" fill="#f2ea38" stroke="#f2ea38" stroke-width="0.3" stroke-linejoin="round"/><polygon points="0.0,0 5.6,5.7 0.0,11.4" fill="#a9a140" stroke="#a9a140" stroke-width="0.3"/><polygon points="11.2,0 5.6,5.7 11.2,11.4" fill="#c6bd4a" stroke="#c6bd4a" stroke-width="0.3"/><polygon points="0.0,11.4 5.6,5.7 11.2,11.4" fill="#a29a3a" stroke="#a29a3a" stroke-width="0.3"/><polygon points="11.2,0 22.4,0 16.799999999999997,5.7" fill="#f2ea38" stroke="#f2ea38" stroke-width="0.3" stroke-linejoin="round"/><polygon points="11.2,0 16.799999999999997,5.7 11.2,11.4" fill="#c6bd4a" stroke="#c6bd4a" stroke-width="0.3"/><polygon points="22.4,0 16.799999999999997,5.7 22.4,11.4" fill="#c6bd4a" stroke="#c6bd4a" stroke-width="0.3"/><polygon points="11.2,11.4 16.799999999999997,5.7 22.4,11.4" fill="#a29a3a" stroke="#a29a3a" stroke-width="0.3"/><polygon points="22.4,0 33.599999999999994,0 28.0,5.7" fill="#f2ea38" stroke="#f2ea38" stroke-width="0.3" stroke-linejoin="round"/><polygon points="22.4,0 28.0,5.7 22.4,11.4" fill="#c6bd4a" stroke="#c6bd4a" stroke-width="0.3"/><polygon points="33.599999999999994,0 28.0,5.7 33.599999999999994,11.4" fill="#c6bd4a" stroke="#c6bd4a" stroke-width="0.3"/><polygon points="22.4,11.4 28.0,5.7 33.599999999999994,11.4" fill="#a29a3a" stroke="#a29a3a" stroke-width="0.3"/><circle cx="0.0" cy="0" r="0.75" fill="#5a78e6"/><circle cx="0.0" cy="11.4" r="0.75" fill="#5a78e6"/><circle cx="11.2" cy="0" r="0.75" fill="#5a78e6"/><circle cx="11.2" cy="11.4" r="0.75" fill="#5a78e6"/><circle cx="22.4" cy="0" r="0.75" fill="#5a78e6"/><circle cx="22.4" cy="11.4" r="0.75" fill="#5a78e6"/><circle cx="33.599999999999994" cy="0" r="0.75" fill="#5a78e6"/><circle cx="33.599999999999994" cy="11.4" r="0.75" fill="#5a78e6"/></g>
<g transform="translate(174.0,170.8) rotate(19)"><rect x="5.65" y="0" width="22.6" height="11.2" fill="#c6bd4a"/><polygon points="0.0,0 11.3,0 5.65,5.6" fill="#f2ea38" stroke="#f2ea38" stroke-width="0.3" stroke-linejoin="round"/><polygon points="0.0,0 5.65,5.6 0.0,11.2" fill="#a9a140" stroke="#a9a140" stroke-width="0.3"/><polygon points="11.3,0 5.65,5.6 11.3,11.2" fill="#c6bd4a" stroke="#c6bd4a" stroke-width="0.3"/><polygon points="0.0,11.2 5.65,5.6 11.3,11.2" fill="#a29a3a" stroke="#a29a3a" stroke-width="0.3"/><polygon points="11.3,0 22.6,0 16.950000000000003,5.6" fill="#f2ea38" stroke="#f2ea38" stroke-width="0.3" stroke-linejoin="round"/><polygon points="11.3,0 16.950000000000003,5.6 11.3,11.2" fill="#c6bd4a" stroke="#c6bd4a" stroke-width="0.3"/><polygon points="22.6,0 16.950000000000003,5.6 22.6,11.2" fill="#c6bd4a" stroke="#c6bd4a" stroke-width="0.3"/><polygon points="11.3,11.2 16.950000000000003,5.6 22.6,11.2" fill="#a29a3a" stroke="#a29a3a" stroke-width="0.3"/><polygon points="22.6,0 33.900000000000006,0 28.25,5.6" fill="#f2ea38" stroke="#f2ea38" stroke-width="0.3" stroke-linejoin="round"/><polygon points="22.6,0 28.25,5.6 22.6,11.2" fill="#c6bd4a" stroke="#c6bd4a" stroke-width="0.3"/><polygon points="33.900000000000006,0 28.25,5.6 33.900000000000006,11.2" fill="#c6bd4a" stroke="#c6bd4a" stroke-width="0.3"/><polygon points="22.6,11.2 28.25,5.6 33.900000000000006,11.2" fill="#a29a3a" stroke="#a29a3a" stroke-width="0.3"/><circle cx="0.0" cy="0" r="0.75" fill="#5a78e6"/><circle cx="0.0" cy="11.2" r="0.75" fill="#5a78e6"/><circle cx="11.3" cy="0" r="0.75" fill="#5a78e6"/><circle cx="11.3" cy="11.2" r="0.75" fill="#5a78e6"/><circle cx="22.6" cy="0" r="0.75" fill="#5a78e6"/><circle cx="22.6" cy="11.2" r="0.75" fill="#5a78e6"/><circle cx="33.900000000000006" cy="0" r="0.75" fill="#5a78e6"/><circle cx="33.900000000000006" cy="11.2" r="0.75" fill="#5a78e6"/></g>
<g transform="translate(159.8,192.4) rotate(-7)"><rect x="6.35" y="0" width="12.7" height="12.4" fill="#c6bd4a"/><polygon points="0.0,0 12.7,0 6.35,6.2" fill="#f2ea38" stroke="#f2ea38" stroke-width="0.3" stroke-linejoin="round"/><polygon points="0.0,0 6.35,6.2 0.0,12.4" fill="#a9a140" stroke="#a9a140" stroke-width="0.3"/><polygon points="12.7,0 6.35,6.2 12.7,12.4" fill="#c6bd4a" stroke="#c6bd4a" stroke-width="0.3"/><polygon points="0.0,12.4 6.35,6.2 12.7,12.4" fill="#a29a3a" stroke="#a29a3a" stroke-width="0.3"/><polygon points="12.7,0 25.4,0 19.049999999999997,6.2" fill="#f2ea38" stroke="#f2ea38" stroke-width="0.3" stroke-linejoin="round"/><polygon points="12.7,0 19.049999999999997,6.2 12.7,12.4" fill="#c6bd4a" stroke="#c6bd4a" stroke-width="0.3"/><polygon points="25.4,0 19.049999999999997,6.2 25.4,12.4" fill="#c6bd4a" stroke="#c6bd4a" stroke-width="0.3"/><polygon points="12.7,12.4 19.049999999999997,6.2 25.4,12.4" fill="#a29a3a" stroke="#a29a3a" stroke-width="0.3"/><circle cx="0.0" cy="0" r="0.75" fill="#5a78e6"/><circle cx="0.0" cy="12.4" r="0.75" fill="#5a78e6"/><circle cx="12.7" cy="0" r="0.75" fill="#5a78e6"/><circle cx="12.7" cy="12.4" r="0.75" fill="#5a78e6"/><circle cx="25.4" cy="0" r="0.75" fill="#5a78e6"/><circle cx="25.4" cy="12.4" r="0.75" fill="#5a78e6"/></g>
<polygon points="115.7,210.35 107.2,218.35 115.7,218.35" fill="#f2ea3a" stroke="#f2ea3a" stroke-width="0.3"/><polygon points="115.7,210.35 124.2,218.35 115.7,218.35" fill="#e2d948" stroke="#e2d948" stroke-width="0.3"/><polygon points="107.2,218.35 115.7,226.35 115.7,218.35" fill="#b5ad4a" stroke="#b5ad4a" stroke-width="0.3"/><polygon points="124.2,218.35 115.7,226.35 115.7,218.35" fill="#9c9538" stroke="#9c9538" stroke-width="0.3"/>
<circle cx="115.70" cy="209.20" r="0.75" fill="#5a78e6"/>
<circle cx="115.70" cy="227.50" r="0.75" fill="#5a78e6"/>
<polygon points="134.10000000000002,210.35 125.60000000000002,218.35 134.10000000000002,218.35" fill="#f2ea3a" stroke="#f2ea3a" stroke-width="0.3"/><polygon points="134.10000000000002,210.35 142.60000000000002,218.35 134.10000000000002,218.35" fill="#e2d948" stroke="#e2d948" stroke-width="0.3"/><polygon points="125.60000000000002,218.35 134.10000000000002,226.35 134.10000000000002,218.35" fill="#b5ad4a" stroke="#b5ad4a" stroke-width="0.3"/><polygon points="142.60000000000002,218.35 134.10000000000002,226.35 134.10000000000002,218.35" fill="#9c9538" stroke="#9c9538" stroke-width="0.3"/>
<circle cx="134.10" cy="209.20" r="0.75" fill="#5a78e6"/>
<circle cx="134.10" cy="227.50" r="0.75" fill="#5a78e6"/>
<polygon points="152.5,210.35 144.0,218.35 152.5,218.35" fill="#f2ea3a" stroke="#f2ea3a" stroke-width="0.3"/><polygon points="152.5,210.35 161.0,218.35 152.5,218.35" fill="#e2d948" stroke="#e2d948" stroke-width="0.3"/><polygon points="144.0,218.35 152.5,226.35 152.5,218.35" fill="#b5ad4a" stroke="#b5ad4a" stroke-width="0.3"/><polygon points="161.0,218.35 152.5,226.35 152.5,218.35" fill="#9c9538" stroke="#9c9538" stroke-width="0.3"/>
<circle cx="152.50" cy="209.20" r="0.75" fill="#5a78e6"/>
<circle cx="152.50" cy="227.50" r="0.75" fill="#5a78e6"/>
<polygon points="170.89999999999998,210.35 162.39999999999998,218.35 170.89999999999998,218.35" fill="#f2ea3a" stroke="#f2ea3a" stroke-width="0.3"/><polygon points="170.89999999999998,210.35 179.39999999999998,218.35 170.89999999999998,218.35" fill="#e2d948" stroke="#e2d948" stroke-width="0.3"/><polygon points="162.39999999999998,218.35 170.89999999999998,226.35 170.89999999999998,218.35" fill="#b5ad4a" stroke="#b5ad4a" stroke-width="0.3"/><polygon points="179.39999999999998,218.35 170.89999999999998,226.35 170.89999999999998,218.35" fill="#9c9538" stroke="#9c9538" stroke-width="0.3"/>
<circle cx="170.90" cy="209.20" r="0.75" fill="#5a78e6"/>
<circle cx="170.90" cy="227.50" r="0.75" fill="#5a78e6"/>
<polygon points="189.3,210.35 180.8,218.35 189.3,218.35" fill="#f2ea3a" stroke="#f2ea3a" stroke-width="0.3"/><polygon points="189.3,210.35 197.8,218.35 189.3,218.35" fill="#e2d948" stroke="#e2d948" stroke-width="0.3"/><polygon points="180.8,218.35 189.3,226.35 189.3,218.35" fill="#b5ad4a" stroke="#b5ad4a" stroke-width="0.3"/><polygon points="197.8,218.35 189.3,226.35 189.3,218.35" fill="#9c9538" stroke="#9c9538" stroke-width="0.3"/>
<circle cx="189.30" cy="209.20" r="0.75" fill="#5a78e6"/>
<circle cx="189.30" cy="227.50" r="0.75" fill="#5a78e6"/>
<circle cx="106.50" cy="218.35" r="0.75" fill="#5a78e6"/>
<circle cx="124.90" cy="218.35" r="0.75" fill="#5a78e6"/>
<circle cx="143.30" cy="218.35" r="0.75" fill="#5a78e6"/>
<circle cx="161.70" cy="218.35" r="0.75" fill="#5a78e6"/>
<circle cx="180.10" cy="218.35" r="0.75" fill="#5a78e6"/>
<circle cx="198.50" cy="218.35" r="0.75" fill="#5a78e6"/>
<polygon points="115.7,229.05 107.2,237.05 115.7,237.05" fill="#f2ea3a" stroke="#f2ea3a" stroke-width="0.3"/><polygon points="115.7,229.05 124.2,237.05 115.7,237.05" fill="#e2d948" stroke="#e2d948" stroke-width="0.3"/><polygon points="107.2,237.05 115.7,245.05 115.7,237.05" fill="#b5ad4a" stroke="#b5ad4a" stroke-width="0.3"/><polygon points="124.2,237.05 115.7,245.05 115.7,237.05" fill="#9c9538" stroke="#9c9538" stroke-width="0.3"/>
<circle cx="115.70" cy="227.90" r="0.75" fill="#5a78e6"/>
<circle cx="115.70" cy="246.20" r="0.75" fill="#5a78e6"/>
<polygon points="134.10000000000002,229.05 125.60000000000002,237.05 134.10000000000002,237.05" fill="#f2ea3a" stroke="#f2ea3a" stroke-width="0.3"/><polygon points="134.10000000000002,229.05 142.60000000000002,237.05 134.10000000000002,237.05" fill="#e2d948" stroke="#e2d948" stroke-width="0.3"/><polygon points="125.60000000000002,237.05 134.10000000000002,245.05 134.10000000000002,237.05" fill="#b5ad4a" stroke="#b5ad4a" stroke-width="0.3"/><polygon points="142.60000000000002,237.05 134.10000000000002,245.05 134.10000000000002,237.05" fill="#9c9538" stroke="#9c9538" stroke-width="0.3"/>
<circle cx="134.10" cy="227.90" r="0.75" fill="#5a78e6"/>
<circle cx="134.10" cy="246.20" r="0.75" fill="#5a78e6"/>
<polygon points="152.5,229.05 144.0,237.05 152.5,237.05" fill="#f2ea3a" stroke="#f2ea3a" stroke-width="0.3"/><polygon points="152.5,229.05 161.0,237.05 152.5,237.05" fill="#e2d948" stroke="#e2d948" stroke-width="0.3"/><polygon points="144.0,237.05 152.5,245.05 152.5,237.05" fill="#b5ad4a" stroke="#b5ad4a" stroke-width="0.3"/><polygon points="161.0,237.05 152.5,245.05 152.5,237.05" fill="#9c9538" stroke="#9c9538" stroke-width="0.3"/>
<circle cx="152.50" cy="227.90" r="0.75" fill="#5a78e6"/>
<circle cx="152.50" cy="246.20" r="0.75" fill="#5a78e6"/>
<polygon points="170.89999999999998,229.05 162.39999999999998,237.05 170.89999999999998,237.05" fill="#f2ea3a" stroke="#f2ea3a" stroke-width="0.3"/><polygon points="170.89999999999998,229.05 179.39999999999998,237.05 170.89999999999998,237.05" fill="#e2d948" stroke="#e2d948" stroke-width="0.3"/><polygon points="162.39999999999998,237.05 170.89999999999998,245.05 170.89999999999998,237.05" fill="#b5ad4a" stroke="#b5ad4a" stroke-width="0.3"/><polygon points="179.39999999999998,237.05 170.89999999999998,245.05 170.89999999999998,237.05" fill="#9c9538" stroke="#9c9538" stroke-width="0.3"/>
<circle cx="170.90" cy="227.90" r="0.75" fill="#5a78e6"/>
<circle cx="170.90" cy="246.20" r="0.75" fill="#5a78e6"/>
<polygon points="189.3,229.05 180.8,237.05 189.3,237.05" fill="#f2ea3a" stroke="#f2ea3a" stroke-width="0.3"/><polygon points="189.3,229.05 197.8,237.05 189.3,237.05" fill="#e2d948" stroke="#e2d948" stroke-width="0.3"/><polygon points="180.8,237.05 189.3,245.05 189.3,237.05" fill="#b5ad4a" stroke="#b5ad4a" stroke-width="0.3"/><polygon points="197.8,237.05 189.3,245.05 189.3,237.05" fill="#9c9538" stroke="#9c9538" stroke-width="0.3"/>
<circle cx="189.30" cy="227.90" r="0.75" fill="#5a78e6"/>
<circle cx="189.30" cy="246.20" r="0.75" fill="#5a78e6"/>
<circle cx="106.50" cy="237.05" r="0.75" fill="#5a78e6"/>
<circle cx="124.90" cy="237.05" r="0.75" fill="#5a78e6"/>
<circle cx="143.30" cy="237.05" r="0.75" fill="#5a78e6"/>
<circle cx="161.70" cy="237.05" r="0.75" fill="#5a78e6"/>
<circle cx="180.10" cy="237.05" r="0.75" fill="#5a78e6"/>
<circle cx="198.50" cy="237.05" r="0.75" fill="#5a78e6"/>
<circle cx="106.50" cy="209.00" r="1.75" fill="url(#gsph)"/>
<circle cx="124.90" cy="209.00" r="1.75" fill="url(#gsph)"/>
<circle cx="143.30" cy="209.00" r="1.75" fill="url(#gsph)"/>
<circle cx="161.70" cy="209.00" r="1.75" fill="url(#gsph)"/>
<circle cx="180.10" cy="209.00" r="1.75" fill="url(#gsph)"/>
<circle cx="198.50" cy="209.00" r="1.75" fill="url(#gsph)"/>
<circle cx="106.50" cy="227.70" r="1.75" fill="url(#gsph)"/>
<circle cx="124.90" cy="227.70" r="1.75" fill="url(#gsph)"/>
<circle cx="143.30" cy="227.70" r="1.75" fill="url(#gsph)"/>
<circle cx="161.70" cy="227.70" r="1.75" fill="url(#gsph)"/>
<circle cx="180.10" cy="227.70" r="1.75" fill="url(#gsph)"/>
<circle cx="198.50" cy="227.70" r="1.75" fill="url(#gsph)"/>
<circle cx="106.50" cy="246.40" r="1.75" fill="url(#gsph)"/>
<circle cx="124.90" cy="246.40" r="1.75" fill="url(#gsph)"/>
<circle cx="143.30" cy="246.40" r="1.75" fill="url(#gsph)"/>
<circle cx="161.70" cy="246.40" r="1.75" fill="url(#gsph)"/>
<circle cx="180.10" cy="246.40" r="1.75" fill="url(#gsph)"/>
<circle cx="198.50" cy="246.40" r="1.75" fill="url(#gsph)"/>
<g transform="translate(66.6,221.6) rotate(0) scale(1,1)"><path d="M-3.0,-4.9 L3.0,-4.9 L5.7,0 L3.0,4.9 L-3.0,4.9 L-5.7,0 L-3.0,-4.9 M5.7,0 L11.5,-0.2 L15.7,3.6" fill="none" stroke="#a6ea70" stroke-width="2.2" stroke-linejoin="round"/><path d="M-3.0,-4.9 L3.0,-4.9 L5.7,0 L3.0,4.9 L-3.0,4.9 L-5.7,0 L-3.0,-4.9 M5.7,0 L11.5,-0.2 L15.7,3.6" fill="none" stroke="#1e2a0c" stroke-width="0.9"/><line x1="15.7" y1="3.6" x2="22.4" y2="3.4" stroke="#5a8a40" stroke-width="1"/><circle cx="-3.0" cy="-4.9" r="1.6" fill="#0a0a0a" stroke="#8ad850" stroke-width="0.45"/><circle cx="3.0" cy="-4.9" r="1.6" fill="#0a0a0a" stroke="#8ad850" stroke-width="0.45"/><circle cx="5.7" cy="0" r="1.6" fill="#0a0a0a" stroke="#8ad850" stroke-width="0.45"/><circle cx="3.0" cy="4.9" r="1.6" fill="#0a0a0a" stroke="#8ad850" stroke-width="0.45"/><circle cx="-3.0" cy="4.9" r="1.6" fill="#0a0a0a" stroke="#8ad850" stroke-width="0.45"/><circle cx="-5.7" cy="0" r="1.6" fill="#0a0a0a" stroke="#8ad850" stroke-width="0.45"/><circle cx="11.5" cy="-0.2" r="1.6" fill="#0a0a0a" stroke="#8ad850" stroke-width="0.45"/><circle cx="15.7" cy="3.6" r="1.6" fill="#0a0a0a" stroke="#8ad850" stroke-width="0.45"/><circle cx="22.4" cy="3.4" r="1.55" fill="#22b83a" stroke="#0a5a14" stroke-width="0.45"/></g>
<g transform="translate(222.3,198.5) rotate(0) scale(1.22,1.22)"><path d="M-3.0,-4.9 L3.0,-4.9 L5.7,0 L3.0,4.9 L-3.0,4.9 L-5.7,0 L-3.0,-4.9 M5.7,0 L11.5,-0.2 L15.7,3.6" fill="none" stroke="#a6ea70" stroke-width="2.2" stroke-linejoin="round"/><path d="M-3.0,-4.9 L3.0,-4.9 L5.7,0 L3.0,4.9 L-3.0,4.9 L-5.7,0 L-3.0,-4.9 M5.7,0 L11.5,-0.2 L15.7,3.6" fill="none" stroke="#1e2a0c" stroke-width="0.9"/><line x1="15.7" y1="3.6" x2="22.4" y2="3.4" stroke="#5a8a40" stroke-width="1"/><circle cx="-3.0" cy="-4.9" r="1.6" fill="#0a0a0a" stroke="#8ad850" stroke-width="0.45"/><circle cx="3.0" cy="-4.9" r="1.6" fill="#0a0a0a" stroke="#8ad850" stroke-width="0.45"/><circle cx="5.7" cy="0" r="1.6" fill="#0a0a0a" stroke="#8ad850" stroke-width="0.45"/><circle cx="3.0" cy="4.9" r="1.6" fill="#0a0a0a" stroke="#8ad850" stroke-width="0.45"/><circle cx="-3.0" cy="4.9" r="1.6" fill="#0a0a0a" stroke="#8ad850" stroke-width="0.45"/><circle cx="-5.7" cy="0" r="1.6" fill="#0a0a0a" stroke="#8ad850" stroke-width="0.45"/><circle cx="11.5" cy="-0.2" r="1.6" fill="#0a0a0a" stroke="#8ad850" stroke-width="0.45"/><circle cx="15.7" cy="3.6" r="1.6" fill="#0a0a0a" stroke="#8ad850" stroke-width="0.45"/><circle cx="22.4" cy="3.4" r="1.55" fill="#22b83a" stroke="#0a5a14" stroke-width="0.45"/></g>
<path d="M227.2,209.4 L230.6,209.4 C230.7,213.5 231.8,216.5 236.5,218.6 L238.5,219.9 L231.5,220.5 C228.5,218.5 227.3,215 227.2,209.4 Z" fill="#2bb6c9"/>
<path d="M211,219.3 L243.8,219.3 L243.8,216.4 L254.3,222.05 L243.8,227.7 L243.8,224.8 L211,224.8 Z" fill="#2bb6c9"/>
<polygon points="285.2,200.5 276.5,209.6 285.2,209.6" fill="#f2ea3a" stroke="#f2ea3a" stroke-width="0.3"/><polygon points="285.2,200.5 293.9,209.6 285.2,209.6" fill="#e2d948" stroke="#e2d948" stroke-width="0.3"/><polygon points="276.5,209.6 285.2,218.7 285.2,209.6" fill="#b5ad4a" stroke="#b5ad4a" stroke-width="0.3"/><polygon points="293.9,209.6 285.2,218.7 285.2,209.6" fill="#9c9538" stroke="#9c9538" stroke-width="0.3"/>
<circle cx="285.20" cy="199.20" r="0.75" fill="#5a78e6"/>
<circle cx="285.20" cy="220.20" r="0.75" fill="#5a78e6"/>
<polygon points="305.9,200.5 297.2,209.6 305.9,209.6" fill="#f2ea3a" stroke="#f2ea3a" stroke-width="0.3"/><polygon points="305.9,200.5 314.59999999999997,209.6 305.9,209.6" fill="#e2d948" stroke="#e2d948" stroke-width="0.3"/><polygon points="297.2,209.6 305.9,218.7 305.9,209.6" fill="#b5ad4a" stroke="#b5ad4a" stroke-width="0.3"/><polygon points="314.59999999999997,209.6 305.9,218.7 305.9,209.6" fill="#9c9538" stroke="#9c9538" stroke-width="0.3"/>
<circle cx="305.90" cy="199.20" r="0.75" fill="#5a78e6"/>
<circle cx="305.90" cy="220.20" r="0.75" fill="#5a78e6"/>
<polygon points="326.59999999999997,200.5 317.9,209.6 326.59999999999997,209.6" fill="#f2ea3a" stroke="#f2ea3a" stroke-width="0.3"/><polygon points="326.59999999999997,200.5 335.29999999999995,209.6 326.59999999999997,209.6" fill="#e2d948" stroke="#e2d948" stroke-width="0.3"/><polygon points="317.9,209.6 326.59999999999997,218.7 326.59999999999997,209.6" fill="#b5ad4a" stroke="#b5ad4a" stroke-width="0.3"/><polygon points="335.29999999999995,209.6 326.59999999999997,218.7 326.59999999999997,209.6" fill="#9c9538" stroke="#9c9538" stroke-width="0.3"/>
<circle cx="326.60" cy="199.20" r="0.75" fill="#5a78e6"/>
<circle cx="326.60" cy="220.20" r="0.75" fill="#5a78e6"/>
<polygon points="347.29999999999995,200.5 338.59999999999997,209.6 347.29999999999995,209.6" fill="#f2ea3a" stroke="#f2ea3a" stroke-width="0.3"/><polygon points="347.29999999999995,200.5 355.99999999999994,209.6 347.29999999999995,209.6" fill="#e2d948" stroke="#e2d948" stroke-width="0.3"/><polygon points="338.59999999999997,209.6 347.29999999999995,218.7 347.29999999999995,209.6" fill="#b5ad4a" stroke="#b5ad4a" stroke-width="0.3"/><polygon points="355.99999999999994,209.6 347.29999999999995,218.7 347.29999999999995,209.6" fill="#9c9538" stroke="#9c9538" stroke-width="0.3"/>
<circle cx="347.30" cy="199.20" r="0.75" fill="#5a78e6"/>
<circle cx="347.30" cy="220.20" r="0.75" fill="#5a78e6"/>
<polygon points="368.0,200.5 359.3,209.6 368.0,209.6" fill="#f2ea3a" stroke="#f2ea3a" stroke-width="0.3"/><polygon points="368.0,200.5 376.7,209.6 368.0,209.6" fill="#e2d948" stroke="#e2d948" stroke-width="0.3"/><polygon points="359.3,209.6 368.0,218.7 368.0,209.6" fill="#b5ad4a" stroke="#b5ad4a" stroke-width="0.3"/><polygon points="376.7,209.6 368.0,218.7 368.0,209.6" fill="#9c9538" stroke="#9c9538" stroke-width="0.3"/>
<circle cx="368.00" cy="199.20" r="0.75" fill="#5a78e6"/>
<circle cx="368.00" cy="220.20" r="0.75" fill="#5a78e6"/>
<circle cx="274.60" cy="209.70" r="0.75" fill="#5a78e6"/>
<circle cx="295.30" cy="209.70" r="0.75" fill="#5a78e6"/>
<circle cx="316.00" cy="209.70" r="0.75" fill="#5a78e6"/>
<circle cx="336.70" cy="209.70" r="0.75" fill="#5a78e6"/>
<circle cx="357.40" cy="209.70" r="0.75" fill="#5a78e6"/>
<circle cx="378.10" cy="209.70" r="0.75" fill="#5a78e6"/>
<g transform="translate(274.4,200.0) rotate(0)"><path d="M3.5,-28.5 L8.3,-25.9 L8.3,-20.1 L3.5,-17.0 L-1.3,-20.1 L-1.3,-25.9 L3.5,-28.5 M3.5,-17.0 L3.5,-11.3 L-0.3,-7.1" fill="none" stroke="#a6ea70" stroke-width="2.2" stroke-linejoin="round"/><path d="M3.5,-28.5 L8.3,-25.9 L8.3,-20.1 L3.5,-17.0 L-1.3,-20.1 L-1.3,-25.9 L3.5,-28.5 M3.5,-17.0 L3.5,-11.3 L-0.3,-7.1" fill="none" stroke="#1e2a0c" stroke-width="0.9"/><line x1="-0.3" y1="-7.1" x2="0" y2="0" stroke="#5a8a40" stroke-width="1"/><circle cx="3.5" cy="-28.5" r="1.6" fill="#0a0a0a" stroke="#8ad850" stroke-width="0.45"/><circle cx="8.3" cy="-25.9" r="1.6" fill="#0a0a0a" stroke="#8ad850" stroke-width="0.45"/><circle cx="8.3" cy="-20.1" r="1.6" fill="#0a0a0a" stroke="#8ad850" stroke-width="0.45"/><circle cx="3.5" cy="-17.0" r="1.6" fill="#0a0a0a" stroke="#8ad850" stroke-width="0.45"/><circle cx="-1.3" cy="-20.1" r="1.6" fill="#0a0a0a" stroke="#8ad850" stroke-width="0.45"/><circle cx="-1.3" cy="-25.9" r="1.6" fill="#0a0a0a" stroke="#8ad850" stroke-width="0.45"/><circle cx="3.5" cy="-11.3" r="1.6" fill="#0a0a0a" stroke="#8ad850" stroke-width="0.45"/><circle cx="-0.3" cy="-7.1" r="1.6" fill="#0a0a0a" stroke="#8ad850" stroke-width="0.45"/><circle cx="0" cy="0" r="1.6" fill="#22b83a" stroke="#8fe060" stroke-width="0.5"/></g>
<g transform="translate(274.4,219.4) rotate(180)"><path d="M3.5,-28.5 L8.3,-25.9 L8.3,-20.1 L3.5,-17.0 L-1.3,-20.1 L-1.3,-25.9 L3.5,-28.5 M3.5,-17.0 L3.5,-11.3 L-0.3,-7.1" fill="none" stroke="#a6ea70" stroke-width="2.2" stroke-linejoin="round"/><path d="M3.5,-28.5 L8.3,-25.9 L8.3,-20.1 L3.5,-17.0 L-1.3,-20.1 L-1.3,-25.9 L3.5,-28.5 M3.5,-17.0 L3.5,-11.3 L-0.3,-7.1" fill="none" stroke="#1e2a0c" stroke-width="0.9"/><line x1="-0.3" y1="-7.1" x2="0" y2="0" stroke="#5a8a40" stroke-width="1"/><circle cx="3.5" cy="-28.5" r="1.6" fill="#0a0a0a" stroke="#8ad850" stroke-width="0.45"/><circle cx="8.3" cy="-25.9" r="1.6" fill="#0a0a0a" stroke="#8ad850" stroke-width="0.45"/><circle cx="8.3" cy="-20.1" r="1.6" fill="#0a0a0a" stroke="#8ad850" stroke-width="0.45"/><circle cx="3.5" cy="-17.0" r="1.6" fill="#0a0a0a" stroke="#8ad850" stroke-width="0.45"/><circle cx="-1.3" cy="-20.1" r="1.6" fill="#0a0a0a" stroke="#8ad850" stroke-width="0.45"/><circle cx="-1.3" cy="-25.9" r="1.6" fill="#0a0a0a" stroke="#8ad850" stroke-width="0.45"/><circle cx="3.5" cy="-11.3" r="1.6" fill="#0a0a0a" stroke="#8ad850" stroke-width="0.45"/><circle cx="-0.3" cy="-7.1" r="1.6" fill="#0a0a0a" stroke="#8ad850" stroke-width="0.45"/><circle cx="0" cy="0" r="1.6" fill="#22b83a" stroke="#8fe060" stroke-width="0.5"/></g>
<g transform="translate(295.09999999999997,200.0) rotate(0)"><path d="M3.5,-28.5 L8.3,-25.9 L8.3,-20.1 L3.5,-17.0 L-1.3,-20.1 L-1.3,-25.9 L3.5,-28.5 M3.5,-17.0 L3.5,-11.3 L-0.3,-7.1" fill="none" stroke="#a6ea70" stroke-width="2.2" stroke-linejoin="round"/><path d="M3.5,-28.5 L8.3,-25.9 L8.3,-20.1 L3.5,-17.0 L-1.3,-20.1 L-1.3,-25.9 L3.5,-28.5 M3.5,-17.0 L3.5,-11.3 L-0.3,-7.1" fill="none" stroke="#1e2a0c" stroke-width="0.9"/><line x1="-0.3" y1="-7.1" x2="0" y2="0" stroke="#5a8a40" stroke-width="1"/><circle cx="3.5" cy="-28.5" r="1.6" fill="#0a0a0a" stroke="#8ad850" stroke-width="0.45"/><circle cx="8.3" cy="-25.9" r="1.6" fill="#0a0a0a" stroke="#8ad850" stroke-width="0.45"/><circle cx="8.3" cy="-20.1" r="1.6" fill="#0a0a0a" stroke="#8ad850" stroke-width="0.45"/><circle cx="3.5" cy="-17.0" r="1.6" fill="#0a0a0a" stroke="#8ad850" stroke-width="0.45"/><circle cx="-1.3" cy="-20.1" r="1.6" fill="#0a0a0a" stroke="#8ad850" stroke-width="0.45"/><circle cx="-1.3" cy="-25.9" r="1.6" fill="#0a0a0a" stroke="#8ad850" stroke-width="0.45"/><circle cx="3.5" cy="-11.3" r="1.6" fill="#0a0a0a" stroke="#8ad850" stroke-width="0.45"/><circle cx="-0.3" cy="-7.1" r="1.6" fill="#0a0a0a" stroke="#8ad850" stroke-width="0.45"/><circle cx="0" cy="0" r="1.6" fill="#22b83a" stroke="#8fe060" stroke-width="0.5"/></g>
<g transform="translate(295.09999999999997,219.4) rotate(180)"><path d="M3.5,-28.5 L8.3,-25.9 L8.3,-20.1 L3.5,-17.0 L-1.3,-20.1 L-1.3,-25.9 L3.5,-28.5 M3.5,-17.0 L3.5,-11.3 L-0.3,-7.1" fill="none" stroke="#a6ea70" stroke-width="2.2" stroke-linejoin="round"/><path d="M3.5,-28.5 L8.3,-25.9 L8.3,-20.1 L3.5,-17.0 L-1.3,-20.1 L-1.3,-25.9 L3.5,-28.5 M3.5,-17.0 L3.5,-11.3 L-0.3,-7.1" fill="none" stroke="#1e2a0c" stroke-width="0.9"/><line x1="-0.3" y1="-7.1" x2="0" y2="0" stroke="#5a8a40" stroke-width="1"/><circle cx="3.5" cy="-28.5" r="1.6" fill="#0a0a0a" stroke="#8ad850" stroke-width="0.45"/><circle cx="8.3" cy="-25.9" r="1.6" fill="#0a0a0a" stroke="#8ad850" stroke-width="0.45"/><circle cx="8.3" cy="-20.1" r="1.6" fill="#0a0a0a" stroke="#8ad850" stroke-width="0.45"/><circle cx="3.5" cy="-17.0" r="1.6" fill="#0a0a0a" stroke="#8ad850" stroke-width="0.45"/><circle cx="-1.3" cy="-20.1" r="1.6" fill="#0a0a0a" stroke="#8ad850" stroke-width="0.45"/><circle cx="-1.3" cy="-25.9" r="1.6" fill="#0a0a0a" stroke="#8ad850" stroke-width="0.45"/><circle cx="3.5" cy="-11.3" r="1.6" fill="#0a0a0a" stroke="#8ad850" stroke-width="0.45"/><circle cx="-0.3" cy="-7.1" r="1.6" fill="#0a0a0a" stroke="#8ad850" stroke-width="0.45"/><circle cx="0" cy="0" r="1.6" fill="#22b83a" stroke="#8fe060" stroke-width="0.5"/></g>
<g transform="translate(315.79999999999995,200.0) rotate(0)"><path d="M3.5,-28.5 L8.3,-25.9 L8.3,-20.1 L3.5,-17.0 L-1.3,-20.1 L-1.3,-25.9 L3.5,-28.5 M3.5,-17.0 L3.5,-11.3 L-0.3,-7.1" fill="none" stroke="#a6ea70" stroke-width="2.2" stroke-linejoin="round"/><path d="M3.5,-28.5 L8.3,-25.9 L8.3,-20.1 L3.5,-17.0 L-1.3,-20.1 L-1.3,-25.9 L3.5,-28.5 M3.5,-17.0 L3.5,-11.3 L-0.3,-7.1" fill="none" stroke="#1e2a0c" stroke-width="0.9"/><line x1="-0.3" y1="-7.1" x2="0" y2="0" stroke="#5a8a40" stroke-width="1"/><circle cx="3.5" cy="-28.5" r="1.6" fill="#0a0a0a" stroke="#8ad850" stroke-width="0.45"/><circle cx="8.3" cy="-25.9" r="1.6" fill="#0a0a0a" stroke="#8ad850" stroke-width="0.45"/><circle cx="8.3" cy="-20.1" r="1.6" fill="#0a0a0a" stroke="#8ad850" stroke-width="0.45"/><circle cx="3.5" cy="-17.0" r="1.6" fill="#0a0a0a" stroke="#8ad850" stroke-width="0.45"/><circle cx="-1.3" cy="-20.1" r="1.6" fill="#0a0a0a" stroke="#8ad850" stroke-width="0.45"/><circle cx="-1.3" cy="-25.9" r="1.6" fill="#0a0a0a" stroke="#8ad850" stroke-width="0.45"/><circle cx="3.5" cy="-11.3" r="1.6" fill="#0a0a0a" stroke="#8ad850" stroke-width="0.45"/><circle cx="-0.3" cy="-7.1" r="1.6" fill="#0a0a0a" stroke="#8ad850" stroke-width="0.45"/><circle cx="0" cy="0" r="1.6" fill="#22b83a" stroke="#8fe060" stroke-width="0.5"/></g>
<g transform="translate(315.79999999999995,219.4) rotate(180)"><path d="M3.5,-28.5 L8.3,-25.9 L8.3,-20.1 L3.5,-17.0 L-1.3,-20.1 L-1.3,-25.9 L3.5,-28.5 M3.5,-17.0 L3.5,-11.3 L-0.3,-7.1" fill="none" stroke="#a6ea70" stroke-width="2.2" stroke-linejoin="round"/><path d="M3.5,-28.5 L8.3,-25.9 L8.3,-20.1 L3.5,-17.0 L-1.3,-20.1 L-1.3,-25.9 L3.5,-28.5 M3.5,-17.0 L3.5,-11.3 L-0.3,-7.1" fill="none" stroke="#1e2a0c" stroke-width="0.9"/><line x1="-0.3" y1="-7.1" x2="0" y2="0" stroke="#5a8a40" stroke-width="1"/><circle cx="3.5" cy="-28.5" r="1.6" fill="#0a0a0a" stroke="#8ad850" stroke-width="0.45"/><circle cx="8.3" cy="-25.9" r="1.6" fill="#0a0a0a" stroke="#8ad850" stroke-width="0.45"/><circle cx="8.3" cy="-20.1" r="1.6" fill="#0a0a0a" stroke="#8ad850" stroke-width="0.45"/><circle cx="3.5" cy="-17.0" r="1.6" fill="#0a0a0a" stroke="#8ad850" stroke-width="0.45"/><circle cx="-1.3" cy="-20.1" r="1.6" fill="#0a0a0a" stroke="#8ad850" stroke-width="0.45"/><circle cx="-1.3" cy="-25.9" r="1.6" fill="#0a0a0a" stroke="#8ad850" stroke-width="0.45"/><circle cx="3.5" cy="-11.3" r="1.6" fill="#0a0a0a" stroke="#8ad850" stroke-width="0.45"/><circle cx="-0.3" cy="-7.1" r="1.6" fill="#0a0a0a" stroke="#8ad850" stroke-width="0.45"/><circle cx="0" cy="0" r="1.6" fill="#22b83a" stroke="#8fe060" stroke-width="0.5"/></g>
<g transform="translate(336.5,200.0) rotate(0)"><path d="M3.5,-28.5 L8.3,-25.9 L8.3,-20.1 L3.5,-17.0 L-1.3,-20.1 L-1.3,-25.9 L3.5,-28.5 M3.5,-17.0 L3.5,-11.3 L-0.3,-7.1" fill="none" stroke="#a6ea70" stroke-width="2.2" stroke-linejoin="round"/><path d="M3.5,-28.5 L8.3,-25.9 L8.3,-20.1 L3.5,-17.0 L-1.3,-20.1 L-1.3,-25.9 L3.5,-28.5 M3.5,-17.0 L3.5,-11.3 L-0.3,-7.1" fill="none" stroke="#1e2a0c" stroke-width="0.9"/><line x1="-0.3" y1="-7.1" x2="0" y2="0" stroke="#5a8a40" stroke-width="1"/><circle cx="3.5" cy="-28.5" r="1.6" fill="#0a0a0a" stroke="#8ad850" stroke-width="0.45"/><circle cx="8.3" cy="-25.9" r="1.6" fill="#0a0a0a" stroke="#8ad850" stroke-width="0.45"/><circle cx="8.3" cy="-20.1" r="1.6" fill="#0a0a0a" stroke="#8ad850" stroke-width="0.45"/><circle cx="3.5" cy="-17.0" r="1.6" fill="#0a0a0a" stroke="#8ad850" stroke-width="0.45"/><circle cx="-1.3" cy="-20.1" r="1.6" fill="#0a0a0a" stroke="#8ad850" stroke-width="0.45"/><circle cx="-1.3" cy="-25.9" r="1.6" fill="#0a0a0a" stroke="#8ad850" stroke-width="0.45"/><circle cx="3.5" cy="-11.3" r="1.6" fill="#0a0a0a" stroke="#8ad850" stroke-width="0.45"/><circle cx="-0.3" cy="-7.1" r="1.6" fill="#0a0a0a" stroke="#8ad850" stroke-width="0.45"/><circle cx="0" cy="0" r="1.6" fill="#22b83a" stroke="#8fe060" stroke-width="0.5"/></g>
<g transform="translate(336.5,219.4) rotate(180)"><path d="M3.5,-28.5 L8.3,-25.9 L8.3,-20.1 L3.5,-17.0 L-1.3,-20.1 L-1.3,-25.9 L3.5,-28.5 M3.5,-17.0 L3.5,-11.3 L-0.3,-7.1" fill="none" stroke="#a6ea70" stroke-width="2.2" stroke-linejoin="round"/><path d="M3.5,-28.5 L8.3,-25.9 L8.3,-20.1 L3.5,-17.0 L-1.3,-20.1 L-1.3,-25.9 L3.5,-28.5 M3.5,-17.0 L3.5,-11.3 L-0.3,-7.1" fill="none" stroke="#1e2a0c" stroke-width="0.9"/><line x1="-0.3" y1="-7.1" x2="0" y2="0" stroke="#5a8a40" stroke-width="1"/><circle cx="3.5" cy="-28.5" r="1.6" fill="#0a0a0a" stroke="#8ad850" stroke-width="0.45"/><circle cx="8.3" cy="-25.9" r="1.6" fill="#0a0a0a" stroke="#8ad850" stroke-width="0.45"/><circle cx="8.3" cy="-20.1" r="1.6" fill="#0a0a0a" stroke="#8ad850" stroke-width="0.45"/><circle cx="3.5" cy="-17.0" r="1.6" fill="#0a0a0a" stroke="#8ad850" stroke-width="0.45"/><circle cx="-1.3" cy="-20.1" r="1.6" fill="#0a0a0a" stroke="#8ad850" stroke-width="0.45"/><circle cx="-1.3" cy="-25.9" r="1.6" fill="#0a0a0a" stroke="#8ad850" stroke-width="0.45"/><circle cx="3.5" cy="-11.3" r="1.6" fill="#0a0a0a" stroke="#8ad850" stroke-width="0.45"/><circle cx="-0.3" cy="-7.1" r="1.6" fill="#0a0a0a" stroke="#8ad850" stroke-width="0.45"/><circle cx="0" cy="0" r="1.6" fill="#22b83a" stroke="#8fe060" stroke-width="0.5"/></g>
<g transform="translate(357.2,200.0) rotate(0)"><path d="M3.5,-28.5 L8.3,-25.9 L8.3,-20.1 L3.5,-17.0 L-1.3,-20.1 L-1.3,-25.9 L3.5,-28.5 M3.5,-17.0 L3.5,-11.3 L-0.3,-7.1" fill="none" stroke="#a6ea70" stroke-width="2.2" stroke-linejoin="round"/><path d="M3.5,-28.5 L8.3,-25.9 L8.3,-20.1 L3.5,-17.0 L-1.3,-20.1 L-1.3,-25.9 L3.5,-28.5 M3.5,-17.0 L3.5,-11.3 L-0.3,-7.1" fill="none" stroke="#1e2a0c" stroke-width="0.9"/><line x1="-0.3" y1="-7.1" x2="0" y2="0" stroke="#5a8a40" stroke-width="1"/><circle cx="3.5" cy="-28.5" r="1.6" fill="#0a0a0a" stroke="#8ad850" stroke-width="0.45"/><circle cx="8.3" cy="-25.9" r="1.6" fill="#0a0a0a" stroke="#8ad850" stroke-width="0.45"/><circle cx="8.3" cy="-20.1" r="1.6" fill="#0a0a0a" stroke="#8ad850" stroke-width="0.45"/><circle cx="3.5" cy="-17.0" r="1.6" fill="#0a0a0a" stroke="#8ad850" stroke-width="0.45"/><circle cx="-1.3" cy="-20.1" r="1.6" fill="#0a0a0a" stroke="#8ad850" stroke-width="0.45"/><circle cx="-1.3" cy="-25.9" r="1.6" fill="#0a0a0a" stroke="#8ad850" stroke-width="0.45"/><circle cx="3.5" cy="-11.3" r="1.6" fill="#0a0a0a" stroke="#8ad850" stroke-width="0.45"/><circle cx="-0.3" cy="-7.1" r="1.6" fill="#0a0a0a" stroke="#8ad850" stroke-width="0.45"/><circle cx="0" cy="0" r="1.6" fill="#22b83a" stroke="#8fe060" stroke-width="0.5"/></g>
<g transform="translate(357.2,219.4) rotate(180)"><path d="M3.5,-28.5 L8.3,-25.9 L8.3,-20.1 L3.5,-17.0 L-1.3,-20.1 L-1.3,-25.9 L3.5,-28.5 M3.5,-17.0 L3.5,-11.3 L-0.3,-7.1" fill="none" stroke="#a6ea70" stroke-width="2.2" stroke-linejoin="round"/><path d="M3.5,-28.5 L8.3,-25.9 L8.3,-20.1 L3.5,-17.0 L-1.3,-20.1 L-1.3,-25.9 L3.5,-28.5 M3.5,-17.0 L3.5,-11.3 L-0.3,-7.1" fill="none" stroke="#1e2a0c" stroke-width="0.9"/><line x1="-0.3" y1="-7.1" x2="0" y2="0" stroke="#5a8a40" stroke-width="1"/><circle cx="3.5" cy="-28.5" r="1.6" fill="#0a0a0a" stroke="#8ad850" stroke-width="0.45"/><circle cx="8.3" cy="-25.9" r="1.6" fill="#0a0a0a" stroke="#8ad850" stroke-width="0.45"/><circle cx="8.3" cy="-20.1" r="1.6" fill="#0a0a0a" stroke="#8ad850" stroke-width="0.45"/><circle cx="3.5" cy="-17.0" r="1.6" fill="#0a0a0a" stroke="#8ad850" stroke-width="0.45"/><circle cx="-1.3" cy="-20.1" r="1.6" fill="#0a0a0a" stroke="#8ad850" stroke-width="0.45"/><circle cx="-1.3" cy="-25.9" r="1.6" fill="#0a0a0a" stroke="#8ad850" stroke-width="0.45"/><circle cx="3.5" cy="-11.3" r="1.6" fill="#0a0a0a" stroke="#8ad850" stroke-width="0.45"/><circle cx="-0.3" cy="-7.1" r="1.6" fill="#0a0a0a" stroke="#8ad850" stroke-width="0.45"/><circle cx="0" cy="0" r="1.6" fill="#22b83a" stroke="#8fe060" stroke-width="0.5"/></g>
<g transform="translate(377.9,200.0) rotate(0)"><path d="M3.5,-28.5 L8.3,-25.9 L8.3,-20.1 L3.5,-17.0 L-1.3,-20.1 L-1.3,-25.9 L3.5,-28.5 M3.5,-17.0 L3.5,-11.3 L-0.3,-7.1" fill="none" stroke="#a6ea70" stroke-width="2.2" stroke-linejoin="round"/><path d="M3.5,-28.5 L8.3,-25.9 L8.3,-20.1 L3.5,-17.0 L-1.3,-20.1 L-1.3,-25.9 L3.5,-28.5 M3.5,-17.0 L3.5,-11.3 L-0.3,-7.1" fill="none" stroke="#1e2a0c" stroke-width="0.9"/><line x1="-0.3" y1="-7.1" x2="0" y2="0" stroke="#5a8a40" stroke-width="1"/><circle cx="3.5" cy="-28.5" r="1.6" fill="#0a0a0a" stroke="#8ad850" stroke-width="0.45"/><circle cx="8.3" cy="-25.9" r="1.6" fill="#0a0a0a" stroke="#8ad850" stroke-width="0.45"/><circle cx="8.3" cy="-20.1" r="1.6" fill="#0a0a0a" stroke="#8ad850" stroke-width="0.45"/><circle cx="3.5" cy="-17.0" r="1.6" fill="#0a0a0a" stroke="#8ad850" stroke-width="0.45"/><circle cx="-1.3" cy="-20.1" r="1.6" fill="#0a0a0a" stroke="#8ad850" stroke-width="0.45"/><circle cx="-1.3" cy="-25.9" r="1.6" fill="#0a0a0a" stroke="#8ad850" stroke-width="0.45"/><circle cx="3.5" cy="-11.3" r="1.6" fill="#0a0a0a" stroke="#8ad850" stroke-width="0.45"/><circle cx="-0.3" cy="-7.1" r="1.6" fill="#0a0a0a" stroke="#8ad850" stroke-width="0.45"/><circle cx="0" cy="0" r="1.6" fill="#22b83a" stroke="#8fe060" stroke-width="0.5"/></g>
<g transform="translate(377.9,219.4) rotate(180)"><path d="M3.5,-28.5 L8.3,-25.9 L8.3,-20.1 L3.5,-17.0 L-1.3,-20.1 L-1.3,-25.9 L3.5,-28.5 M3.5,-17.0 L3.5,-11.3 L-0.3,-7.1" fill="none" stroke="#a6ea70" stroke-width="2.2" stroke-linejoin="round"/><path d="M3.5,-28.5 L8.3,-25.9 L8.3,-20.1 L3.5,-17.0 L-1.3,-20.1 L-1.3,-25.9 L3.5,-28.5 M3.5,-17.0 L3.5,-11.3 L-0.3,-7.1" fill="none" stroke="#1e2a0c" stroke-width="0.9"/><line x1="-0.3" y1="-7.1" x2="0" y2="0" stroke="#5a8a40" stroke-width="1"/><circle cx="3.5" cy="-28.5" r="1.6" fill="#0a0a0a" stroke="#8ad850" stroke-width="0.45"/><circle cx="8.3" cy="-25.9" r="1.6" fill="#0a0a0a" stroke="#8ad850" stroke-width="0.45"/><circle cx="8.3" cy="-20.1" r="1.6" fill="#0a0a0a" stroke="#8ad850" stroke-width="0.45"/><circle cx="3.5" cy="-17.0" r="1.6" fill="#0a0a0a" stroke="#8ad850" stroke-width="0.45"/><circle cx="-1.3" cy="-20.1" r="1.6" fill="#0a0a0a" stroke="#8ad850" stroke-width="0.45"/><circle cx="-1.3" cy="-25.9" r="1.6" fill="#0a0a0a" stroke="#8ad850" stroke-width="0.45"/><circle cx="3.5" cy="-11.3" r="1.6" fill="#0a0a0a" stroke="#8ad850" stroke-width="0.45"/><circle cx="-0.3" cy="-7.1" r="1.6" fill="#0a0a0a" stroke="#8ad850" stroke-width="0.45"/><circle cx="0" cy="0" r="1.6" fill="#22b83a" stroke="#8fe060" stroke-width="0.5"/></g>
<text x="67.6" y="206.6" font-family="Liberation Sans, Arial, sans-serif" stroke="#000" stroke-width="0.25" font-size="8.8" fill="#000">PbI<tspan dy="2.4" font-size="6.3">2</tspan></text>
<text x="64.6" y="241.1" font-family="Liberation Sans, Arial, sans-serif" stroke="#000" stroke-width="0.25" font-size="8.8" fill="#000">PEA<tspan dy="-3.2" font-size="5" stroke-width="0">+</tspan></text>
</svg>
</body></html>
